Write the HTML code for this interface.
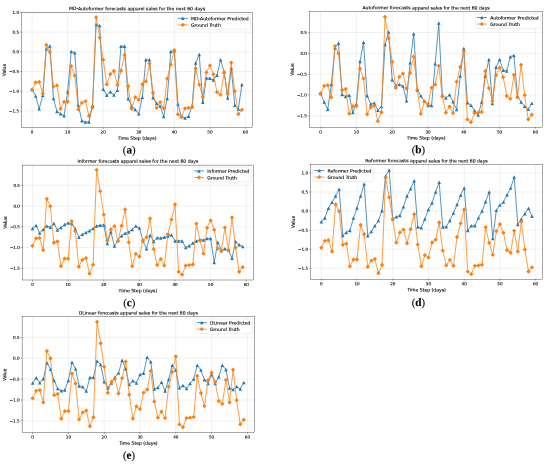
<!DOCTYPE html>
<html><head><meta charset="utf-8"><style>
html,body{margin:0;padding:0;background:#fff;}
svg{display:block;}
text{text-rendering:geometricPrecision;}
text{font-family:"DejaVu Sans","Liberation Sans",sans-serif;font-size:4.55px;fill:#000;stroke:#000;stroke-width:0.12px;}
text.cap{font-family:"Liberation Serif",serif;font-size:10.9px;font-weight:bold;fill:#000;}
text.tk{font-size:4.1px;}
tspan.par{font-weight:normal;}
tspan.let{font-size:11.4px;}
</style></head><body>
<svg width="550" height="466" viewBox="0 0 550 466">
<rect width="550" height="466" fill="#fff"/>
<g>
<line x1="32.1" y1="12.5" x2="32.1" y2="127.5" stroke="#dcdcdc" stroke-width="0.4"/>
<line x1="67.66" y1="12.5" x2="67.66" y2="127.5" stroke="#dcdcdc" stroke-width="0.4"/>
<line x1="103.22" y1="12.5" x2="103.22" y2="127.5" stroke="#dcdcdc" stroke-width="0.4"/>
<line x1="138.78" y1="12.5" x2="138.78" y2="127.5" stroke="#dcdcdc" stroke-width="0.4"/>
<line x1="174.34" y1="12.5" x2="174.34" y2="127.5" stroke="#dcdcdc" stroke-width="0.4"/>
<line x1="209.9" y1="12.5" x2="209.9" y2="127.5" stroke="#dcdcdc" stroke-width="0.4"/>
<line x1="245.46" y1="12.5" x2="245.46" y2="127.5" stroke="#dcdcdc" stroke-width="0.4"/>
<line x1="21.6" y1="12.4" x2="252.6" y2="12.4" stroke="#dcdcdc" stroke-width="0.4"/>
<line x1="21.6" y1="32.1" x2="252.6" y2="32.1" stroke="#dcdcdc" stroke-width="0.4"/>
<line x1="21.6" y1="51.8" x2="252.6" y2="51.8" stroke="#dcdcdc" stroke-width="0.4"/>
<line x1="21.6" y1="71.5" x2="252.6" y2="71.5" stroke="#dcdcdc" stroke-width="0.4"/>
<line x1="21.6" y1="91.2" x2="252.6" y2="91.2" stroke="#dcdcdc" stroke-width="0.4"/>
<line x1="21.6" y1="110.9" x2="252.6" y2="110.9" stroke="#dcdcdc" stroke-width="0.4"/>
<polyline points="32.1,89.58 35.66,96.08 39.21,108.79 42.77,95.29 46.32,48.84 49.88,46.09 53.44,98.44 56.99,111.43 60.55,113.79 64.1,115.76 67.66,91.75 71.22,51.6 74.77,52.78 78.33,105.33 81.88,120.87 85.44,122.05 89,122.05 92.55,105.33 96.11,24.44 99.66,25.62 103.22,89.19 106.78,95.29 110.33,91.75 113.89,94.9 117.44,90.17 121,46.21 124.56,46.21 128.11,98.83 131.67,105.92 135.22,109.46 138.78,113.79 142.34,97.26 145.89,59.87 149.45,59.87 153,97.65 156.56,103.16 160.12,105.92 163.67,116.54 167.23,98.44 170.78,51.6 174.34,50.81 177.9,103.95 181.45,116.54 185.01,118.12 188.56,116.15 192.12,105.92 195.68,63.01 199.23,54.59 202.79,102.37 206.34,77.97 209.9,78.36 213.46,79.94 217.01,75.22 220.57,59.87 224.12,72.07 227.68,98.04 231.24,68.13 234.79,105.33 238.35,109.07 241.9,84.47" fill="none" stroke="#1f77b4" stroke-width="0.78" stroke-linejoin="round"/>
<path d="M32.1 87.83L33.85 91.33L30.35 91.33Z" fill="#1f77b4"/>
<path d="M35.66 94.33L37.41 97.83L33.91 97.83Z" fill="#1f77b4"/>
<path d="M39.21 107.04L40.96 110.54L37.46 110.54Z" fill="#1f77b4"/>
<path d="M42.77 93.54L44.52 97.04L41.02 97.04Z" fill="#1f77b4"/>
<path d="M46.32 47.09L48.07 50.59L44.57 50.59Z" fill="#1f77b4"/>
<path d="M49.88 44.34L51.63 47.84L48.13 47.84Z" fill="#1f77b4"/>
<path d="M53.44 96.69L55.19 100.19L51.69 100.19Z" fill="#1f77b4"/>
<path d="M56.99 109.68L58.74 113.18L55.24 113.18Z" fill="#1f77b4"/>
<path d="M60.55 112.04L62.3 115.54L58.8 115.54Z" fill="#1f77b4"/>
<path d="M64.1 114.01L65.85 117.51L62.35 117.51Z" fill="#1f77b4"/>
<path d="M67.66 90L69.41 93.5L65.91 93.5Z" fill="#1f77b4"/>
<path d="M71.22 49.85L72.97 53.35L69.47 53.35Z" fill="#1f77b4"/>
<path d="M74.77 51.03L76.52 54.53L73.02 54.53Z" fill="#1f77b4"/>
<path d="M78.33 103.58L80.08 107.08L76.58 107.08Z" fill="#1f77b4"/>
<path d="M81.88 119.12L83.63 122.62L80.13 122.62Z" fill="#1f77b4"/>
<path d="M85.44 120.3L87.19 123.8L83.69 123.8Z" fill="#1f77b4"/>
<path d="M89 120.3L90.75 123.8L87.25 123.8Z" fill="#1f77b4"/>
<path d="M92.55 103.58L94.3 107.08L90.8 107.08Z" fill="#1f77b4"/>
<path d="M96.11 22.69L97.86 26.19L94.36 26.19Z" fill="#1f77b4"/>
<path d="M99.66 23.87L101.41 27.37L97.91 27.37Z" fill="#1f77b4"/>
<path d="M103.22 87.44L104.97 90.94L101.47 90.94Z" fill="#1f77b4"/>
<path d="M106.78 93.54L108.53 97.04L105.03 97.04Z" fill="#1f77b4"/>
<path d="M110.33 90L112.08 93.5L108.58 93.5Z" fill="#1f77b4"/>
<path d="M113.89 93.15L115.64 96.65L112.14 96.65Z" fill="#1f77b4"/>
<path d="M117.44 88.42L119.19 91.92L115.69 91.92Z" fill="#1f77b4"/>
<path d="M121 44.46L122.75 47.96L119.25 47.96Z" fill="#1f77b4"/>
<path d="M124.56 44.46L126.31 47.96L122.81 47.96Z" fill="#1f77b4"/>
<path d="M128.11 97.08L129.86 100.58L126.36 100.58Z" fill="#1f77b4"/>
<path d="M131.67 104.17L133.42 107.67L129.92 107.67Z" fill="#1f77b4"/>
<path d="M135.22 107.71L136.97 111.21L133.47 111.21Z" fill="#1f77b4"/>
<path d="M138.78 112.04L140.53 115.54L137.03 115.54Z" fill="#1f77b4"/>
<path d="M142.34 95.51L144.09 99.01L140.59 99.01Z" fill="#1f77b4"/>
<path d="M145.89 58.12L147.64 61.62L144.14 61.62Z" fill="#1f77b4"/>
<path d="M149.45 58.12L151.2 61.62L147.7 61.62Z" fill="#1f77b4"/>
<path d="M153 95.9L154.75 99.4L151.25 99.4Z" fill="#1f77b4"/>
<path d="M156.56 101.41L158.31 104.91L154.81 104.91Z" fill="#1f77b4"/>
<path d="M160.12 104.17L161.87 107.67L158.37 107.67Z" fill="#1f77b4"/>
<path d="M163.67 114.79L165.42 118.29L161.92 118.29Z" fill="#1f77b4"/>
<path d="M167.23 96.69L168.98 100.19L165.48 100.19Z" fill="#1f77b4"/>
<path d="M170.78 49.85L172.53 53.35L169.03 53.35Z" fill="#1f77b4"/>
<path d="M174.34 49.06L176.09 52.56L172.59 52.56Z" fill="#1f77b4"/>
<path d="M177.9 102.2L179.65 105.7L176.15 105.7Z" fill="#1f77b4"/>
<path d="M181.45 114.79L183.2 118.29L179.7 118.29Z" fill="#1f77b4"/>
<path d="M185.01 116.37L186.76 119.87L183.26 119.87Z" fill="#1f77b4"/>
<path d="M188.56 114.4L190.31 117.9L186.81 117.9Z" fill="#1f77b4"/>
<path d="M192.12 104.17L193.87 107.67L190.37 107.67Z" fill="#1f77b4"/>
<path d="M195.68 61.26L197.43 64.76L193.93 64.76Z" fill="#1f77b4"/>
<path d="M199.23 52.84L200.98 56.34L197.48 56.34Z" fill="#1f77b4"/>
<path d="M202.79 100.62L204.54 104.12L201.04 104.12Z" fill="#1f77b4"/>
<path d="M206.34 76.22L208.09 79.72L204.59 79.72Z" fill="#1f77b4"/>
<path d="M209.9 76.61L211.65 80.11L208.15 80.11Z" fill="#1f77b4"/>
<path d="M213.46 78.19L215.21 81.69L211.71 81.69Z" fill="#1f77b4"/>
<path d="M217.01 73.47L218.76 76.97L215.26 76.97Z" fill="#1f77b4"/>
<path d="M220.57 58.12L222.32 61.62L218.82 61.62Z" fill="#1f77b4"/>
<path d="M224.12 70.32L225.87 73.82L222.37 73.82Z" fill="#1f77b4"/>
<path d="M227.68 96.29L229.43 99.79L225.93 99.79Z" fill="#1f77b4"/>
<path d="M231.24 66.38L232.99 69.88L229.49 69.88Z" fill="#1f77b4"/>
<path d="M234.79 103.58L236.54 107.08L233.04 107.08Z" fill="#1f77b4"/>
<path d="M238.35 107.32L240.1 110.82L236.6 110.82Z" fill="#1f77b4"/>
<path d="M241.9 82.72L243.65 86.22L240.15 86.22Z" fill="#1f77b4"/>
<polyline points="32.1,89.58 35.66,82.5 39.21,81.91 42.77,93.52 46.32,44.91 49.88,51.99 53.44,86.63 56.99,85.45 60.55,108.87 64.1,101.78 67.66,101.78 71.22,66.16 74.77,75.61 78.33,109.46 81.88,102.96 85.44,101.19 89,115.99 92.55,107.49 96.11,17.32 99.66,37.59 103.22,59.87 106.78,84.47 110.33,74.04 113.89,70.89 117.44,85.06 121,70.49 124.56,54.98 128.11,86.24 131.67,108.87 135.22,97.26 138.78,99.82 142.34,84.27 145.89,81.32 149.45,63.6 153,92.73 156.56,107.88 160.12,102.1 163.67,108.28 167.23,78.6 170.78,64.59 174.34,50.1 177.9,114.3 181.45,116.94 185.01,108.28 188.56,107.88 192.12,107.29 195.68,68.52 199.23,84.66 202.79,96.98 206.34,72.46 209.9,65.38 213.46,74.31 217.01,92.14 220.57,94.82 224.12,72.19 227.68,93.52 231.24,62.62 234.79,91.35 238.35,114.18 241.9,109.85" fill="none" stroke="#ff7f0e" stroke-width="0.78" stroke-linejoin="round"/>
<path d="M32.1 87.43L34.25 89.58L32.1 91.73L29.95 89.58Z" fill="#ff7f0e"/>
<path d="M35.66 80.35L37.81 82.5L35.66 84.65L33.51 82.5Z" fill="#ff7f0e"/>
<path d="M39.21 79.76L41.36 81.91L39.21 84.06L37.06 81.91Z" fill="#ff7f0e"/>
<path d="M42.77 91.37L44.92 93.52L42.77 95.67L40.62 93.52Z" fill="#ff7f0e"/>
<path d="M46.32 42.76L48.47 44.91L46.32 47.06L44.17 44.91Z" fill="#ff7f0e"/>
<path d="M49.88 49.84L52.03 51.99L49.88 54.14L47.73 51.99Z" fill="#ff7f0e"/>
<path d="M53.44 84.48L55.59 86.63L53.44 88.78L51.29 86.63Z" fill="#ff7f0e"/>
<path d="M56.99 83.3L59.14 85.45L56.99 87.6L54.84 85.45Z" fill="#ff7f0e"/>
<path d="M60.55 106.72L62.7 108.87L60.55 111.02L58.4 108.87Z" fill="#ff7f0e"/>
<path d="M64.1 99.63L66.25 101.78L64.1 103.93L61.95 101.78Z" fill="#ff7f0e"/>
<path d="M67.66 99.63L69.81 101.78L67.66 103.93L65.51 101.78Z" fill="#ff7f0e"/>
<path d="M71.22 64.01L73.37 66.16L71.22 68.31L69.07 66.16Z" fill="#ff7f0e"/>
<path d="M74.77 73.46L76.92 75.61L74.77 77.76L72.62 75.61Z" fill="#ff7f0e"/>
<path d="M78.33 107.31L80.48 109.46L78.33 111.61L76.18 109.46Z" fill="#ff7f0e"/>
<path d="M81.88 100.81L84.03 102.96L81.88 105.11L79.73 102.96Z" fill="#ff7f0e"/>
<path d="M85.44 99.04L87.59 101.19L85.44 103.34L83.29 101.19Z" fill="#ff7f0e"/>
<path d="M89 113.84L91.15 115.99L89 118.14L86.85 115.99Z" fill="#ff7f0e"/>
<path d="M92.55 105.34L94.7 107.49L92.55 109.64L90.4 107.49Z" fill="#ff7f0e"/>
<path d="M96.11 15.17L98.26 17.32L96.11 19.47L93.96 17.32Z" fill="#ff7f0e"/>
<path d="M99.66 35.44L101.81 37.59L99.66 39.74L97.51 37.59Z" fill="#ff7f0e"/>
<path d="M103.22 57.72L105.37 59.87L103.22 62.02L101.07 59.87Z" fill="#ff7f0e"/>
<path d="M106.78 82.32L108.93 84.47L106.78 86.62L104.63 84.47Z" fill="#ff7f0e"/>
<path d="M110.33 71.89L112.48 74.04L110.33 76.19L108.18 74.04Z" fill="#ff7f0e"/>
<path d="M113.89 68.74L116.04 70.89L113.89 73.04L111.74 70.89Z" fill="#ff7f0e"/>
<path d="M117.44 82.91L119.59 85.06L117.44 87.21L115.29 85.06Z" fill="#ff7f0e"/>
<path d="M121 68.34L123.15 70.49L121 72.64L118.85 70.49Z" fill="#ff7f0e"/>
<path d="M124.56 52.83L126.71 54.98L124.56 57.13L122.41 54.98Z" fill="#ff7f0e"/>
<path d="M128.11 84.09L130.26 86.24L128.11 88.39L125.96 86.24Z" fill="#ff7f0e"/>
<path d="M131.67 106.72L133.82 108.87L131.67 111.02L129.52 108.87Z" fill="#ff7f0e"/>
<path d="M135.22 95.11L137.37 97.26L135.22 99.41L133.07 97.26Z" fill="#ff7f0e"/>
<path d="M138.78 97.67L140.93 99.82L138.78 101.97L136.63 99.82Z" fill="#ff7f0e"/>
<path d="M142.34 82.12L144.49 84.27L142.34 86.42L140.19 84.27Z" fill="#ff7f0e"/>
<path d="M145.89 79.17L148.04 81.32L145.89 83.47L143.74 81.32Z" fill="#ff7f0e"/>
<path d="M149.45 61.45L151.6 63.6L149.45 65.75L147.3 63.6Z" fill="#ff7f0e"/>
<path d="M153 90.58L155.15 92.73L153 94.88L150.85 92.73Z" fill="#ff7f0e"/>
<path d="M156.56 105.73L158.71 107.88L156.56 110.03L154.41 107.88Z" fill="#ff7f0e"/>
<path d="M160.12 99.95L162.27 102.1L160.12 104.25L157.97 102.1Z" fill="#ff7f0e"/>
<path d="M163.67 106.13L165.82 108.28L163.67 110.43L161.52 108.28Z" fill="#ff7f0e"/>
<path d="M167.23 76.45L169.38 78.6L167.23 80.75L165.08 78.6Z" fill="#ff7f0e"/>
<path d="M170.78 62.44L172.93 64.59L170.78 66.74L168.63 64.59Z" fill="#ff7f0e"/>
<path d="M174.34 47.95L176.49 50.1L174.34 52.25L172.19 50.1Z" fill="#ff7f0e"/>
<path d="M177.9 112.15L180.05 114.3L177.9 116.45L175.75 114.3Z" fill="#ff7f0e"/>
<path d="M181.45 114.79L183.6 116.94L181.45 119.09L179.3 116.94Z" fill="#ff7f0e"/>
<path d="M185.01 106.13L187.16 108.28L185.01 110.43L182.86 108.28Z" fill="#ff7f0e"/>
<path d="M188.56 105.73L190.71 107.88L188.56 110.03L186.41 107.88Z" fill="#ff7f0e"/>
<path d="M192.12 105.14L194.27 107.29L192.12 109.44L189.97 107.29Z" fill="#ff7f0e"/>
<path d="M195.68 66.37L197.83 68.52L195.68 70.67L193.53 68.52Z" fill="#ff7f0e"/>
<path d="M199.23 82.51L201.38 84.66L199.23 86.81L197.08 84.66Z" fill="#ff7f0e"/>
<path d="M202.79 94.83L204.94 96.98L202.79 99.13L200.64 96.98Z" fill="#ff7f0e"/>
<path d="M206.34 70.31L208.49 72.46L206.34 74.61L204.19 72.46Z" fill="#ff7f0e"/>
<path d="M209.9 63.23L212.05 65.38L209.9 67.53L207.75 65.38Z" fill="#ff7f0e"/>
<path d="M213.46 72.16L215.61 74.31L213.46 76.46L211.31 74.31Z" fill="#ff7f0e"/>
<path d="M217.01 89.99L219.16 92.14L217.01 94.29L214.86 92.14Z" fill="#ff7f0e"/>
<path d="M220.57 92.67L222.72 94.82L220.57 96.97L218.42 94.82Z" fill="#ff7f0e"/>
<path d="M224.12 70.04L226.27 72.19L224.12 74.34L221.97 72.19Z" fill="#ff7f0e"/>
<path d="M227.68 91.37L229.83 93.52L227.68 95.67L225.53 93.52Z" fill="#ff7f0e"/>
<path d="M231.24 60.47L233.39 62.62L231.24 64.77L229.09 62.62Z" fill="#ff7f0e"/>
<path d="M234.79 89.2L236.94 91.35L234.79 93.5L232.64 91.35Z" fill="#ff7f0e"/>
<path d="M238.35 112.03L240.5 114.18L238.35 116.33L236.2 114.18Z" fill="#ff7f0e"/>
<path d="M241.9 107.7L244.05 109.85L241.9 112L239.75 109.85Z" fill="#ff7f0e"/>
<rect x="21.6" y="12.5" width="231" height="115" fill="none" stroke="#000" stroke-width="0.34"/>
<line x1="32.1" y1="127.5" x2="32.1" y2="128.9" stroke="#000" stroke-width="0.34"/>
<text x="32.1" y="133.5" text-anchor="middle" class="tk" transform="rotate(0.06 32.1 133.5)">0</text>
<line x1="67.66" y1="127.5" x2="67.66" y2="128.9" stroke="#000" stroke-width="0.34"/>
<text x="67.66" y="133.5" text-anchor="middle" class="tk" transform="rotate(0.06 67.66 133.5)">10</text>
<line x1="103.22" y1="127.5" x2="103.22" y2="128.9" stroke="#000" stroke-width="0.34"/>
<text x="103.22" y="133.5" text-anchor="middle" class="tk" transform="rotate(0.06 103.22 133.5)">20</text>
<line x1="138.78" y1="127.5" x2="138.78" y2="128.9" stroke="#000" stroke-width="0.34"/>
<text x="138.78" y="133.5" text-anchor="middle" class="tk" transform="rotate(0.06 138.78 133.5)">30</text>
<line x1="174.34" y1="127.5" x2="174.34" y2="128.9" stroke="#000" stroke-width="0.34"/>
<text x="174.34" y="133.5" text-anchor="middle" class="tk" transform="rotate(0.06 174.34 133.5)">40</text>
<line x1="209.9" y1="127.5" x2="209.9" y2="128.9" stroke="#000" stroke-width="0.34"/>
<text x="209.9" y="133.5" text-anchor="middle" class="tk" transform="rotate(0.06 209.9 133.5)">50</text>
<line x1="245.46" y1="127.5" x2="245.46" y2="128.9" stroke="#000" stroke-width="0.34"/>
<text x="245.46" y="133.5" text-anchor="middle" class="tk" transform="rotate(0.06 245.46 133.5)">60</text>
<line x1="20.2" y1="12.4" x2="21.6" y2="12.4" stroke="#000" stroke-width="0.34"/>
<text x="19" y="13.95" text-anchor="end" class="tk" transform="rotate(0.06 19 13.95)">1.0</text>
<line x1="20.2" y1="32.1" x2="21.6" y2="32.1" stroke="#000" stroke-width="0.34"/>
<text x="19" y="33.65" text-anchor="end" class="tk" transform="rotate(0.06 19 33.65)">0.5</text>
<line x1="20.2" y1="51.8" x2="21.6" y2="51.8" stroke="#000" stroke-width="0.34"/>
<text x="19" y="53.35" text-anchor="end" class="tk" transform="rotate(0.06 19 53.35)">0.0</text>
<line x1="20.2" y1="71.5" x2="21.6" y2="71.5" stroke="#000" stroke-width="0.34"/>
<text x="19" y="73.05" text-anchor="end" class="tk" transform="rotate(0.06 19 73.05)">−0.5</text>
<line x1="20.2" y1="91.2" x2="21.6" y2="91.2" stroke="#000" stroke-width="0.34"/>
<text x="19" y="92.75" text-anchor="end" class="tk" transform="rotate(0.06 19 92.75)">−1.0</text>
<line x1="20.2" y1="110.9" x2="21.6" y2="110.9" stroke="#000" stroke-width="0.34"/>
<text x="19" y="112.45" text-anchor="end" class="tk" transform="rotate(0.06 19 112.45)">−1.5</text>
<text x="137.1" y="10.2" text-anchor="middle" transform="rotate(0.06 137.1 10.2)">MD-Autoformer forecasts apparel sales for the next 60 days</text>
<text x="137.1" y="139.7" text-anchor="middle" transform="rotate(0.06 137.1 139.7)">Time Step (days)</text>
<text x="5.8" y="70" text-anchor="middle" transform="rotate(-89.94 5.8 70)">Value</text>
<rect x="176.28" y="14.6" width="74.22" height="14.7" rx="0.9" fill="#fff" fill-opacity="0.8" stroke="#d6d6d6" stroke-width="0.4"/>
<line x1="177.88" y1="18.3" x2="187.78" y2="18.3" stroke="#1f77b4" stroke-width="0.78"/>
<path d="M182.83 16.55L184.58 20.05L181.08 20.05Z" fill="#1f77b4"/>
<text x="191.08" y="20.2" transform="rotate(0.06 191.08 20.2)">MD-Autoformer Predicted</text>
<line x1="177.88" y1="24.9" x2="187.78" y2="24.9" stroke="#ff7f0e" stroke-width="0.78"/>
<path d="M182.83 22.75L184.98 24.9L182.83 27.05L180.68 24.9Z" fill="#ff7f0e"/>
<text x="191.08" y="26.8" transform="rotate(0.06 191.08 26.8)">Ground Truth</text>
<text class="cap" transform="translate(129.2 153.5) rotate(0.06) scale(0.98 1)" text-anchor="middle"><tspan class="par">(</tspan><tspan class="let">a</tspan><tspan class="par">)</tspan></text>
<line x1="320.6" y1="11.7" x2="320.6" y2="127.4" stroke="#dcdcdc" stroke-width="0.4"/>
<line x1="356.4" y1="11.7" x2="356.4" y2="127.4" stroke="#dcdcdc" stroke-width="0.4"/>
<line x1="392.2" y1="11.7" x2="392.2" y2="127.4" stroke="#dcdcdc" stroke-width="0.4"/>
<line x1="428" y1="11.7" x2="428" y2="127.4" stroke="#dcdcdc" stroke-width="0.4"/>
<line x1="463.8" y1="11.7" x2="463.8" y2="127.4" stroke="#dcdcdc" stroke-width="0.4"/>
<line x1="499.6" y1="11.7" x2="499.6" y2="127.4" stroke="#dcdcdc" stroke-width="0.4"/>
<line x1="535.4" y1="11.7" x2="535.4" y2="127.4" stroke="#dcdcdc" stroke-width="0.4"/>
<line x1="309.5" y1="32.53" x2="542.7" y2="32.53" stroke="#dcdcdc" stroke-width="0.4"/>
<line x1="309.5" y1="53.36" x2="542.7" y2="53.36" stroke="#dcdcdc" stroke-width="0.4"/>
<line x1="309.5" y1="74.19" x2="542.7" y2="74.19" stroke="#dcdcdc" stroke-width="0.4"/>
<line x1="309.5" y1="95.01" x2="542.7" y2="95.01" stroke="#dcdcdc" stroke-width="0.4"/>
<line x1="309.5" y1="115.83" x2="542.7" y2="115.83" stroke="#dcdcdc" stroke-width="0.4"/>
<polyline points="320.6,93.42 324.18,102.1 327.76,109.35 331.34,84.5 334.92,48 338.5,43.14 342.08,94.6 345.66,96.57 349.24,95.31 352.82,112.4 356.4,103.9 359.98,61.58 363.56,42.18 367.14,95.73 370.72,104.02 374.3,103.06 377.88,110.18 381.46,106.62 385.04,44.48 388.62,32.08 392.2,79.81 395.78,85.38 399.36,84.5 402.94,86.01 406.52,100.8 410.1,62.84 413.68,33.8 417.26,89.95 420.84,95.73 424.42,101.22 428,105.58 431.58,105.58 435.16,63.8 438.74,23.12 442.32,95.31 445.9,97.91 449.48,94.81 453.06,101.72 456.64,109.43 460.22,76.04 463.8,48.59 467.38,102.64 470.96,105.28 474.54,110.52 478.12,115 481.7,102.1 485.28,76.04 488.86,59.61 492.44,103.48 496.02,67.32 499.6,59.61 503.18,70.17 506.76,71.09 510.34,56.68 513.92,55.38 517.5,95.94 521.08,101.93 524.66,106.29 528.24,109.35 531.82,103.19" fill="none" stroke="#1f77b4" stroke-width="0.78" stroke-linejoin="round"/>
<path d="M320.6 91.67L322.35 95.17L318.85 95.17Z" fill="#1f77b4"/>
<path d="M324.18 100.35L325.93 103.85L322.43 103.85Z" fill="#1f77b4"/>
<path d="M327.76 107.6L329.51 111.1L326.01 111.1Z" fill="#1f77b4"/>
<path d="M331.34 82.75L333.09 86.25L329.59 86.25Z" fill="#1f77b4"/>
<path d="M334.92 46.25L336.67 49.75L333.17 49.75Z" fill="#1f77b4"/>
<path d="M338.5 41.39L340.25 44.89L336.75 44.89Z" fill="#1f77b4"/>
<path d="M342.08 92.85L343.83 96.35L340.33 96.35Z" fill="#1f77b4"/>
<path d="M345.66 94.82L347.41 98.32L343.91 98.32Z" fill="#1f77b4"/>
<path d="M349.24 93.56L350.99 97.06L347.49 97.06Z" fill="#1f77b4"/>
<path d="M352.82 110.65L354.57 114.15L351.07 114.15Z" fill="#1f77b4"/>
<path d="M356.4 102.15L358.15 105.65L354.65 105.65Z" fill="#1f77b4"/>
<path d="M359.98 59.83L361.73 63.33L358.23 63.33Z" fill="#1f77b4"/>
<path d="M363.56 40.43L365.31 43.93L361.81 43.93Z" fill="#1f77b4"/>
<path d="M367.14 93.98L368.89 97.48L365.39 97.48Z" fill="#1f77b4"/>
<path d="M370.72 102.27L372.47 105.77L368.97 105.77Z" fill="#1f77b4"/>
<path d="M374.3 101.31L376.05 104.81L372.55 104.81Z" fill="#1f77b4"/>
<path d="M377.88 108.43L379.63 111.93L376.13 111.93Z" fill="#1f77b4"/>
<path d="M381.46 104.87L383.21 108.37L379.71 108.37Z" fill="#1f77b4"/>
<path d="M385.04 42.73L386.79 46.23L383.29 46.23Z" fill="#1f77b4"/>
<path d="M388.62 30.33L390.37 33.83L386.87 33.83Z" fill="#1f77b4"/>
<path d="M392.2 78.06L393.95 81.56L390.45 81.56Z" fill="#1f77b4"/>
<path d="M395.78 83.63L397.53 87.13L394.03 87.13Z" fill="#1f77b4"/>
<path d="M399.36 82.75L401.11 86.25L397.61 86.25Z" fill="#1f77b4"/>
<path d="M402.94 84.26L404.69 87.76L401.19 87.76Z" fill="#1f77b4"/>
<path d="M406.52 99.05L408.27 102.55L404.77 102.55Z" fill="#1f77b4"/>
<path d="M410.1 61.09L411.85 64.59L408.35 64.59Z" fill="#1f77b4"/>
<path d="M413.68 32.05L415.43 35.55L411.93 35.55Z" fill="#1f77b4"/>
<path d="M417.26 88.2L419.01 91.7L415.51 91.7Z" fill="#1f77b4"/>
<path d="M420.84 93.98L422.59 97.48L419.09 97.48Z" fill="#1f77b4"/>
<path d="M424.42 99.47L426.17 102.97L422.67 102.97Z" fill="#1f77b4"/>
<path d="M428 103.83L429.75 107.33L426.25 107.33Z" fill="#1f77b4"/>
<path d="M431.58 103.83L433.33 107.33L429.83 107.33Z" fill="#1f77b4"/>
<path d="M435.16 62.05L436.91 65.55L433.41 65.55Z" fill="#1f77b4"/>
<path d="M438.74 21.37L440.49 24.87L436.99 24.87Z" fill="#1f77b4"/>
<path d="M442.32 93.56L444.07 97.06L440.57 97.06Z" fill="#1f77b4"/>
<path d="M445.9 96.16L447.65 99.66L444.15 99.66Z" fill="#1f77b4"/>
<path d="M449.48 93.06L451.23 96.56L447.73 96.56Z" fill="#1f77b4"/>
<path d="M453.06 99.97L454.81 103.47L451.31 103.47Z" fill="#1f77b4"/>
<path d="M456.64 107.68L458.39 111.18L454.89 111.18Z" fill="#1f77b4"/>
<path d="M460.22 74.29L461.97 77.79L458.47 77.79Z" fill="#1f77b4"/>
<path d="M463.8 46.84L465.55 50.34L462.05 50.34Z" fill="#1f77b4"/>
<path d="M467.38 100.89L469.13 104.39L465.63 104.39Z" fill="#1f77b4"/>
<path d="M470.96 103.53L472.71 107.03L469.21 107.03Z" fill="#1f77b4"/>
<path d="M474.54 108.77L476.29 112.27L472.79 112.27Z" fill="#1f77b4"/>
<path d="M478.12 113.25L479.87 116.75L476.37 116.75Z" fill="#1f77b4"/>
<path d="M481.7 100.35L483.45 103.85L479.95 103.85Z" fill="#1f77b4"/>
<path d="M485.28 74.29L487.03 77.79L483.53 77.79Z" fill="#1f77b4"/>
<path d="M488.86 57.86L490.61 61.36L487.11 61.36Z" fill="#1f77b4"/>
<path d="M492.44 101.73L494.19 105.23L490.69 105.23Z" fill="#1f77b4"/>
<path d="M496.02 65.57L497.77 69.07L494.27 69.07Z" fill="#1f77b4"/>
<path d="M499.6 57.86L501.35 61.36L497.85 61.36Z" fill="#1f77b4"/>
<path d="M503.18 68.42L504.93 71.92L501.43 71.92Z" fill="#1f77b4"/>
<path d="M506.76 69.34L508.51 72.84L505.01 72.84Z" fill="#1f77b4"/>
<path d="M510.34 54.93L512.09 58.43L508.59 58.43Z" fill="#1f77b4"/>
<path d="M513.92 53.63L515.67 57.13L512.17 57.13Z" fill="#1f77b4"/>
<path d="M517.5 94.19L519.25 97.69L515.75 97.69Z" fill="#1f77b4"/>
<path d="M521.08 100.18L522.83 103.68L519.33 103.68Z" fill="#1f77b4"/>
<path d="M524.66 104.54L526.41 108.04L522.91 108.04Z" fill="#1f77b4"/>
<path d="M528.24 107.6L529.99 111.1L526.49 111.1Z" fill="#1f77b4"/>
<path d="M531.82 101.44L533.57 104.94L530.07 104.94Z" fill="#1f77b4"/>
<polyline points="320.6,93.3 324.18,85.81 327.76,85.19 331.34,97.46 334.92,46.08 338.5,53.56 342.08,90.18 345.66,88.93 349.24,113.69 352.82,106.2 356.4,106.2 359.98,68.54 363.56,78.53 367.14,114.31 370.72,107.45 374.3,105.57 377.88,121.22 381.46,112.23 385.04,16.91 388.62,38.34 392.2,61.89 395.78,87.89 399.36,76.86 402.94,73.54 406.52,88.52 410.1,73.12 413.68,56.73 417.26,89.76 420.84,113.69 424.42,101.41 428,104.12 431.58,87.68 435.16,84.56 438.74,65.84 442.32,96.63 445.9,112.65 449.48,106.53 453.06,113.06 456.64,81.69 460.22,66.88 463.8,51.57 467.38,119.43 470.96,122.22 474.54,113.06 478.12,112.65 481.7,112.02 485.28,71.04 488.86,88.1 492.44,101.12 496.02,75.2 499.6,67.71 503.18,77.16 506.76,96 510.34,98.83 513.92,74.91 517.5,97.46 521.08,64.8 524.66,95.17 528.24,119.3 531.82,114.73" fill="none" stroke="#ff7f0e" stroke-width="0.78" stroke-linejoin="round"/>
<path d="M320.6 91.15L322.75 93.3L320.6 95.45L318.45 93.3Z" fill="#ff7f0e"/>
<path d="M324.18 83.66L326.33 85.81L324.18 87.96L322.03 85.81Z" fill="#ff7f0e"/>
<path d="M327.76 83.04L329.91 85.19L327.76 87.34L325.61 85.19Z" fill="#ff7f0e"/>
<path d="M331.34 95.31L333.49 97.46L331.34 99.61L329.19 97.46Z" fill="#ff7f0e"/>
<path d="M334.92 43.93L337.07 46.08L334.92 48.23L332.77 46.08Z" fill="#ff7f0e"/>
<path d="M338.5 51.41L340.65 53.56L338.5 55.71L336.35 53.56Z" fill="#ff7f0e"/>
<path d="M342.08 88.03L344.23 90.18L342.08 92.33L339.93 90.18Z" fill="#ff7f0e"/>
<path d="M345.66 86.78L347.81 88.93L345.66 91.08L343.51 88.93Z" fill="#ff7f0e"/>
<path d="M349.24 111.54L351.39 113.69L349.24 115.84L347.09 113.69Z" fill="#ff7f0e"/>
<path d="M352.82 104.05L354.97 106.2L352.82 108.35L350.67 106.2Z" fill="#ff7f0e"/>
<path d="M356.4 104.05L358.55 106.2L356.4 108.35L354.25 106.2Z" fill="#ff7f0e"/>
<path d="M359.98 66.39L362.13 68.54L359.98 70.69L357.83 68.54Z" fill="#ff7f0e"/>
<path d="M363.56 76.38L365.71 78.53L363.56 80.68L361.41 78.53Z" fill="#ff7f0e"/>
<path d="M367.14 112.16L369.29 114.31L367.14 116.46L364.99 114.31Z" fill="#ff7f0e"/>
<path d="M370.72 105.3L372.87 107.45L370.72 109.6L368.57 107.45Z" fill="#ff7f0e"/>
<path d="M374.3 103.42L376.45 105.57L374.3 107.72L372.15 105.57Z" fill="#ff7f0e"/>
<path d="M377.88 119.07L380.03 121.22L377.88 123.37L375.73 121.22Z" fill="#ff7f0e"/>
<path d="M381.46 110.08L383.61 112.23L381.46 114.38L379.31 112.23Z" fill="#ff7f0e"/>
<path d="M385.04 14.76L387.19 16.91L385.04 19.06L382.89 16.91Z" fill="#ff7f0e"/>
<path d="M388.62 36.19L390.77 38.34L388.62 40.49L386.47 38.34Z" fill="#ff7f0e"/>
<path d="M392.2 59.74L394.35 61.89L392.2 64.04L390.05 61.89Z" fill="#ff7f0e"/>
<path d="M395.78 85.74L397.93 87.89L395.78 90.04L393.63 87.89Z" fill="#ff7f0e"/>
<path d="M399.36 74.71L401.51 76.86L399.36 79.01L397.21 76.86Z" fill="#ff7f0e"/>
<path d="M402.94 71.39L405.09 73.54L402.94 75.69L400.79 73.54Z" fill="#ff7f0e"/>
<path d="M406.52 86.37L408.67 88.52L406.52 90.67L404.37 88.52Z" fill="#ff7f0e"/>
<path d="M410.1 70.97L412.25 73.12L410.1 75.27L407.95 73.12Z" fill="#ff7f0e"/>
<path d="M413.68 54.58L415.83 56.73L413.68 58.88L411.53 56.73Z" fill="#ff7f0e"/>
<path d="M417.26 87.61L419.41 89.76L417.26 91.91L415.11 89.76Z" fill="#ff7f0e"/>
<path d="M420.84 111.54L422.99 113.69L420.84 115.84L418.69 113.69Z" fill="#ff7f0e"/>
<path d="M424.42 99.26L426.57 101.41L424.42 103.56L422.27 101.41Z" fill="#ff7f0e"/>
<path d="M428 101.97L430.15 104.12L428 106.27L425.85 104.12Z" fill="#ff7f0e"/>
<path d="M431.58 85.53L433.73 87.68L431.58 89.83L429.43 87.68Z" fill="#ff7f0e"/>
<path d="M435.16 82.41L437.31 84.56L435.16 86.71L433.01 84.56Z" fill="#ff7f0e"/>
<path d="M438.74 63.69L440.89 65.84L438.74 67.99L436.59 65.84Z" fill="#ff7f0e"/>
<path d="M442.32 94.48L444.47 96.63L442.32 98.78L440.17 96.63Z" fill="#ff7f0e"/>
<path d="M445.9 110.5L448.05 112.65L445.9 114.8L443.75 112.65Z" fill="#ff7f0e"/>
<path d="M449.48 104.38L451.63 106.53L449.48 108.68L447.33 106.53Z" fill="#ff7f0e"/>
<path d="M453.06 110.91L455.21 113.06L453.06 115.21L450.91 113.06Z" fill="#ff7f0e"/>
<path d="M456.64 79.54L458.79 81.69L456.64 83.84L454.49 81.69Z" fill="#ff7f0e"/>
<path d="M460.22 64.73L462.37 66.88L460.22 69.03L458.07 66.88Z" fill="#ff7f0e"/>
<path d="M463.8 49.42L465.95 51.57L463.8 53.72L461.65 51.57Z" fill="#ff7f0e"/>
<path d="M467.38 117.28L469.53 119.43L467.38 121.58L465.23 119.43Z" fill="#ff7f0e"/>
<path d="M470.96 120.07L473.11 122.22L470.96 124.37L468.81 122.22Z" fill="#ff7f0e"/>
<path d="M474.54 110.91L476.69 113.06L474.54 115.21L472.39 113.06Z" fill="#ff7f0e"/>
<path d="M478.12 110.5L480.27 112.65L478.12 114.8L475.97 112.65Z" fill="#ff7f0e"/>
<path d="M481.7 109.87L483.85 112.02L481.7 114.17L479.55 112.02Z" fill="#ff7f0e"/>
<path d="M485.28 68.89L487.43 71.04L485.28 73.19L483.13 71.04Z" fill="#ff7f0e"/>
<path d="M488.86 85.95L491.01 88.1L488.86 90.25L486.71 88.1Z" fill="#ff7f0e"/>
<path d="M492.44 98.97L494.59 101.12L492.44 103.27L490.29 101.12Z" fill="#ff7f0e"/>
<path d="M496.02 73.05L498.17 75.2L496.02 77.35L493.87 75.2Z" fill="#ff7f0e"/>
<path d="M499.6 65.56L501.75 67.71L499.6 69.86L497.45 67.71Z" fill="#ff7f0e"/>
<path d="M503.18 75.01L505.33 77.16L503.18 79.31L501.03 77.16Z" fill="#ff7f0e"/>
<path d="M506.76 93.85L508.91 96L506.76 98.15L504.61 96Z" fill="#ff7f0e"/>
<path d="M510.34 96.68L512.49 98.83L510.34 100.98L508.19 98.83Z" fill="#ff7f0e"/>
<path d="M513.92 72.76L516.07 74.91L513.92 77.06L511.77 74.91Z" fill="#ff7f0e"/>
<path d="M517.5 95.31L519.65 97.46L517.5 99.61L515.35 97.46Z" fill="#ff7f0e"/>
<path d="M521.08 62.65L523.23 64.8L521.08 66.95L518.93 64.8Z" fill="#ff7f0e"/>
<path d="M524.66 93.02L526.81 95.17L524.66 97.32L522.51 95.17Z" fill="#ff7f0e"/>
<path d="M528.24 117.15L530.39 119.3L528.24 121.45L526.09 119.3Z" fill="#ff7f0e"/>
<path d="M531.82 112.58L533.97 114.73L531.82 116.88L529.67 114.73Z" fill="#ff7f0e"/>
<rect x="309.5" y="11.7" width="233.2" height="115.7" fill="none" stroke="#000" stroke-width="0.34"/>
<line x1="320.6" y1="127.4" x2="320.6" y2="128.8" stroke="#000" stroke-width="0.34"/>
<text x="320.6" y="133.4" text-anchor="middle" class="tk" transform="rotate(0.06 320.6 133.4)">0</text>
<line x1="356.4" y1="127.4" x2="356.4" y2="128.8" stroke="#000" stroke-width="0.34"/>
<text x="356.4" y="133.4" text-anchor="middle" class="tk" transform="rotate(0.06 356.4 133.4)">10</text>
<line x1="392.2" y1="127.4" x2="392.2" y2="128.8" stroke="#000" stroke-width="0.34"/>
<text x="392.2" y="133.4" text-anchor="middle" class="tk" transform="rotate(0.06 392.2 133.4)">20</text>
<line x1="428" y1="127.4" x2="428" y2="128.8" stroke="#000" stroke-width="0.34"/>
<text x="428" y="133.4" text-anchor="middle" class="tk" transform="rotate(0.06 428 133.4)">30</text>
<line x1="463.8" y1="127.4" x2="463.8" y2="128.8" stroke="#000" stroke-width="0.34"/>
<text x="463.8" y="133.4" text-anchor="middle" class="tk" transform="rotate(0.06 463.8 133.4)">40</text>
<line x1="499.6" y1="127.4" x2="499.6" y2="128.8" stroke="#000" stroke-width="0.34"/>
<text x="499.6" y="133.4" text-anchor="middle" class="tk" transform="rotate(0.06 499.6 133.4)">50</text>
<line x1="535.4" y1="127.4" x2="535.4" y2="128.8" stroke="#000" stroke-width="0.34"/>
<text x="535.4" y="133.4" text-anchor="middle" class="tk" transform="rotate(0.06 535.4 133.4)">60</text>
<line x1="308.1" y1="32.53" x2="309.5" y2="32.53" stroke="#000" stroke-width="0.34"/>
<text x="306.9" y="34.08" text-anchor="end" class="tk" transform="rotate(0.06 306.9 34.08)">0.5</text>
<line x1="308.1" y1="53.36" x2="309.5" y2="53.36" stroke="#000" stroke-width="0.34"/>
<text x="306.9" y="54.91" text-anchor="end" class="tk" transform="rotate(0.06 306.9 54.91)">0.0</text>
<line x1="308.1" y1="74.19" x2="309.5" y2="74.19" stroke="#000" stroke-width="0.34"/>
<text x="306.9" y="75.73" text-anchor="end" class="tk" transform="rotate(0.06 306.9 75.73)">−0.5</text>
<line x1="308.1" y1="95.01" x2="309.5" y2="95.01" stroke="#000" stroke-width="0.34"/>
<text x="306.9" y="96.56" text-anchor="end" class="tk" transform="rotate(0.06 306.9 96.56)">−1.0</text>
<line x1="308.1" y1="115.83" x2="309.5" y2="115.83" stroke="#000" stroke-width="0.34"/>
<text x="306.9" y="117.38" text-anchor="end" class="tk" transform="rotate(0.06 306.9 117.38)">−1.5</text>
<text x="426.1" y="9.4" text-anchor="middle" transform="rotate(0.06 426.1 9.4)">Autoformer forecasts apparel sales for the next 60 days</text>
<text x="426.1" y="139.6" text-anchor="middle" transform="rotate(0.06 426.1 139.6)">Time Step (days)</text>
<text x="293.7" y="69.55" text-anchor="middle" transform="rotate(-89.94 293.7 69.55)">Value</text>
<rect x="475.35" y="13.8" width="65.25" height="14.7" rx="0.9" fill="#fff" fill-opacity="0.8" stroke="#d6d6d6" stroke-width="0.4"/>
<line x1="476.95" y1="17.5" x2="486.85" y2="17.5" stroke="#1f77b4" stroke-width="0.78"/>
<path d="M481.9 15.75L483.65 19.25L480.15 19.25Z" fill="#1f77b4"/>
<text x="490.15" y="19.4" transform="rotate(0.06 490.15 19.4)">Autoformer Predicted</text>
<line x1="476.95" y1="24.1" x2="486.85" y2="24.1" stroke="#ff7f0e" stroke-width="0.78"/>
<path d="M481.9 21.95L484.05 24.1L481.9 26.25L479.75 24.1Z" fill="#ff7f0e"/>
<text x="490.15" y="26" transform="rotate(0.06 490.15 26)">Ground Truth</text>
<text class="cap" transform="translate(418.35 153.25) rotate(0.06) scale(0.98 1)" text-anchor="middle"><tspan class="par">(</tspan><tspan class="let">b</tspan><tspan class="par">)</tspan></text>
<line x1="32.5" y1="165.1" x2="32.5" y2="280" stroke="#dcdcdc" stroke-width="0.4"/>
<line x1="68.13" y1="165.1" x2="68.13" y2="280" stroke="#dcdcdc" stroke-width="0.4"/>
<line x1="103.76" y1="165.1" x2="103.76" y2="280" stroke="#dcdcdc" stroke-width="0.4"/>
<line x1="139.39" y1="165.1" x2="139.39" y2="280" stroke="#dcdcdc" stroke-width="0.4"/>
<line x1="175.02" y1="165.1" x2="175.02" y2="280" stroke="#dcdcdc" stroke-width="0.4"/>
<line x1="210.65" y1="165.1" x2="210.65" y2="280" stroke="#dcdcdc" stroke-width="0.4"/>
<line x1="246.28" y1="165.1" x2="246.28" y2="280" stroke="#dcdcdc" stroke-width="0.4"/>
<line x1="22.5" y1="185.37" x2="253.4" y2="185.37" stroke="#dcdcdc" stroke-width="0.4"/>
<line x1="22.5" y1="206.1" x2="253.4" y2="206.1" stroke="#dcdcdc" stroke-width="0.4"/>
<line x1="22.5" y1="226.83" x2="253.4" y2="226.83" stroke="#dcdcdc" stroke-width="0.4"/>
<line x1="22.5" y1="247.56" x2="253.4" y2="247.56" stroke="#dcdcdc" stroke-width="0.4"/>
<line x1="22.5" y1="268.29" x2="253.4" y2="268.29" stroke="#dcdcdc" stroke-width="0.4"/>
<polyline points="32.5,228.51 36.06,225.49 39.63,232.9 43.19,229.38 46.75,225.91 50.31,227.19 53.88,223.38 57.44,230 61,227.48 64.57,224.58 68.13,222.97 71.69,223.59 75.26,228.8 78.82,237.13 82.38,234.31 85.94,232.61 89.51,230.71 93.07,228.51 96.63,225.91 100.2,225.2 103.76,224.91 107.32,243.58 110.89,231.87 114.45,246.11 118.01,240.15 121.58,235.68 125.14,233.32 128.7,232.07 132.26,229.38 135.83,226.07 139.39,227.98 142.95,240.69 146.52,248.72 150.08,235.35 153.64,241.47 157.21,237.66 160.77,238 164.33,237.33 167.89,236.01 171.46,234.97 175.02,240.89 178.58,240.89 182.15,240.89 185.71,247.6 189.27,245.7 192.84,243.09 196.4,240.89 199.96,239.61 203.52,239.98 207.09,238.62 210.65,238.62 214.21,262.5 217.78,242.22 221.34,250.08 224.9,248.84 228.47,250.08 232.03,258.2 235.59,241.6 239.15,244.78 242.72,246.4" fill="none" stroke="#1f77b4" stroke-width="0.78" stroke-linejoin="round"/>
<path d="M32.5 226.76L34.25 230.26L30.75 230.26Z" fill="#1f77b4"/>
<path d="M36.06 223.74L37.81 227.24L34.31 227.24Z" fill="#1f77b4"/>
<path d="M39.63 231.15L41.38 234.65L37.88 234.65Z" fill="#1f77b4"/>
<path d="M43.19 227.63L44.94 231.13L41.44 231.13Z" fill="#1f77b4"/>
<path d="M46.75 224.16L48.5 227.66L45 227.66Z" fill="#1f77b4"/>
<path d="M50.31 225.44L52.06 228.94L48.56 228.94Z" fill="#1f77b4"/>
<path d="M53.88 221.63L55.63 225.13L52.13 225.13Z" fill="#1f77b4"/>
<path d="M57.44 228.25L59.19 231.75L55.69 231.75Z" fill="#1f77b4"/>
<path d="M61 225.73L62.75 229.23L59.25 229.23Z" fill="#1f77b4"/>
<path d="M64.57 222.83L66.32 226.33L62.82 226.33Z" fill="#1f77b4"/>
<path d="M68.13 221.22L69.88 224.72L66.38 224.72Z" fill="#1f77b4"/>
<path d="M71.69 221.84L73.44 225.34L69.94 225.34Z" fill="#1f77b4"/>
<path d="M75.26 227.05L77.01 230.55L73.51 230.55Z" fill="#1f77b4"/>
<path d="M78.82 235.38L80.57 238.88L77.07 238.88Z" fill="#1f77b4"/>
<path d="M82.38 232.56L84.13 236.06L80.63 236.06Z" fill="#1f77b4"/>
<path d="M85.94 230.86L87.69 234.36L84.19 234.36Z" fill="#1f77b4"/>
<path d="M89.51 228.96L91.26 232.46L87.76 232.46Z" fill="#1f77b4"/>
<path d="M93.07 226.76L94.82 230.26L91.32 230.26Z" fill="#1f77b4"/>
<path d="M96.63 224.16L98.38 227.66L94.88 227.66Z" fill="#1f77b4"/>
<path d="M100.2 223.45L101.95 226.95L98.45 226.95Z" fill="#1f77b4"/>
<path d="M103.76 223.16L105.51 226.66L102.01 226.66Z" fill="#1f77b4"/>
<path d="M107.32 241.83L109.07 245.33L105.57 245.33Z" fill="#1f77b4"/>
<path d="M110.89 230.12L112.64 233.62L109.14 233.62Z" fill="#1f77b4"/>
<path d="M114.45 244.36L116.2 247.86L112.7 247.86Z" fill="#1f77b4"/>
<path d="M118.01 238.4L119.76 241.9L116.26 241.9Z" fill="#1f77b4"/>
<path d="M121.58 233.93L123.33 237.43L119.83 237.43Z" fill="#1f77b4"/>
<path d="M125.14 231.57L126.89 235.07L123.39 235.07Z" fill="#1f77b4"/>
<path d="M128.7 230.32L130.45 233.82L126.95 233.82Z" fill="#1f77b4"/>
<path d="M132.26 227.63L134.01 231.13L130.51 231.13Z" fill="#1f77b4"/>
<path d="M135.83 224.32L137.58 227.82L134.08 227.82Z" fill="#1f77b4"/>
<path d="M139.39 226.23L141.14 229.73L137.64 229.73Z" fill="#1f77b4"/>
<path d="M142.95 238.94L144.7 242.44L141.2 242.44Z" fill="#1f77b4"/>
<path d="M146.52 246.97L148.27 250.47L144.77 250.47Z" fill="#1f77b4"/>
<path d="M150.08 233.6L151.83 237.1L148.33 237.1Z" fill="#1f77b4"/>
<path d="M153.64 239.72L155.39 243.22L151.89 243.22Z" fill="#1f77b4"/>
<path d="M157.21 235.91L158.96 239.41L155.46 239.41Z" fill="#1f77b4"/>
<path d="M160.77 236.25L162.52 239.75L159.02 239.75Z" fill="#1f77b4"/>
<path d="M164.33 235.58L166.08 239.08L162.58 239.08Z" fill="#1f77b4"/>
<path d="M167.89 234.26L169.64 237.76L166.14 237.76Z" fill="#1f77b4"/>
<path d="M171.46 233.22L173.21 236.72L169.71 236.72Z" fill="#1f77b4"/>
<path d="M175.02 239.14L176.77 242.64L173.27 242.64Z" fill="#1f77b4"/>
<path d="M178.58 239.14L180.33 242.64L176.83 242.64Z" fill="#1f77b4"/>
<path d="M182.15 239.14L183.9 242.64L180.4 242.64Z" fill="#1f77b4"/>
<path d="M185.71 245.85L187.46 249.35L183.96 249.35Z" fill="#1f77b4"/>
<path d="M189.27 243.95L191.02 247.45L187.52 247.45Z" fill="#1f77b4"/>
<path d="M192.84 241.34L194.59 244.84L191.09 244.84Z" fill="#1f77b4"/>
<path d="M196.4 239.14L198.15 242.64L194.65 242.64Z" fill="#1f77b4"/>
<path d="M199.96 237.86L201.71 241.36L198.21 241.36Z" fill="#1f77b4"/>
<path d="M203.52 238.23L205.27 241.73L201.77 241.73Z" fill="#1f77b4"/>
<path d="M207.09 236.87L208.84 240.37L205.34 240.37Z" fill="#1f77b4"/>
<path d="M210.65 236.87L212.4 240.37L208.9 240.37Z" fill="#1f77b4"/>
<path d="M214.21 260.75L215.96 264.25L212.46 264.25Z" fill="#1f77b4"/>
<path d="M217.78 240.47L219.53 243.97L216.03 243.97Z" fill="#1f77b4"/>
<path d="M221.34 248.33L223.09 251.83L219.59 251.83Z" fill="#1f77b4"/>
<path d="M224.9 247.09L226.65 250.59L223.15 250.59Z" fill="#1f77b4"/>
<path d="M228.47 248.33L230.22 251.83L226.72 251.83Z" fill="#1f77b4"/>
<path d="M232.03 256.45L233.78 259.95L230.28 259.95Z" fill="#1f77b4"/>
<path d="M235.59 239.85L237.34 243.35L233.84 243.35Z" fill="#1f77b4"/>
<path d="M239.15 243.03L240.9 246.53L237.4 246.53Z" fill="#1f77b4"/>
<path d="M242.72 244.65L244.47 248.15L240.97 248.15Z" fill="#1f77b4"/>
<polyline points="32.5,245.86 36.06,238.4 39.63,237.78 43.19,250 46.75,198.85 50.31,206.3 53.88,242.75 57.44,241.51 61,266.15 64.57,258.7 68.13,258.7 71.69,221.21 75.26,231.15 78.82,266.77 82.38,259.94 85.94,258.08 89.51,273.65 93.07,264.7 96.63,169.81 100.2,191.14 103.76,214.59 107.32,240.47 110.89,229.5 114.45,226.18 118.01,241.09 121.58,225.77 125.14,209.45 128.7,242.34 132.26,266.15 135.83,253.93 139.39,256.63 142.95,240.27 146.52,237.16 150.08,218.52 153.64,249.17 157.21,265.12 160.77,259.03 164.33,265.53 167.89,234.3 171.46,219.56 175.02,204.32 178.58,271.87 182.15,274.64 185.71,265.53 189.27,265.12 192.84,264.5 196.4,223.7 199.96,240.68 203.52,253.64 207.09,227.84 210.65,220.39 214.21,229.79 217.78,248.55 221.34,251.37 224.9,227.55 228.47,250 232.03,217.49 235.59,247.72 239.15,271.74 242.72,267.19" fill="none" stroke="#ff7f0e" stroke-width="0.78" stroke-linejoin="round"/>
<path d="M32.5 243.71L34.65 245.86L32.5 248.01L30.35 245.86Z" fill="#ff7f0e"/>
<path d="M36.06 236.25L38.21 238.4L36.06 240.55L33.91 238.4Z" fill="#ff7f0e"/>
<path d="M39.63 235.63L41.78 237.78L39.63 239.93L37.48 237.78Z" fill="#ff7f0e"/>
<path d="M43.19 247.85L45.34 250L43.19 252.15L41.04 250Z" fill="#ff7f0e"/>
<path d="M46.75 196.7L48.9 198.85L46.75 201L44.6 198.85Z" fill="#ff7f0e"/>
<path d="M50.31 204.15L52.46 206.3L50.31 208.45L48.16 206.3Z" fill="#ff7f0e"/>
<path d="M53.88 240.6L56.03 242.75L53.88 244.9L51.73 242.75Z" fill="#ff7f0e"/>
<path d="M57.44 239.36L59.59 241.51L57.44 243.66L55.29 241.51Z" fill="#ff7f0e"/>
<path d="M61 264L63.15 266.15L61 268.3L58.85 266.15Z" fill="#ff7f0e"/>
<path d="M64.57 256.55L66.72 258.7L64.57 260.85L62.42 258.7Z" fill="#ff7f0e"/>
<path d="M68.13 256.55L70.28 258.7L68.13 260.85L65.98 258.7Z" fill="#ff7f0e"/>
<path d="M71.69 219.06L73.84 221.21L71.69 223.36L69.54 221.21Z" fill="#ff7f0e"/>
<path d="M75.26 229L77.41 231.15L75.26 233.3L73.11 231.15Z" fill="#ff7f0e"/>
<path d="M78.82 264.62L80.97 266.77L78.82 268.92L76.67 266.77Z" fill="#ff7f0e"/>
<path d="M82.38 257.79L84.53 259.94L82.38 262.09L80.23 259.94Z" fill="#ff7f0e"/>
<path d="M85.94 255.93L88.09 258.08L85.94 260.23L83.79 258.08Z" fill="#ff7f0e"/>
<path d="M89.51 271.5L91.66 273.65L89.51 275.8L87.36 273.65Z" fill="#ff7f0e"/>
<path d="M93.07 262.55L95.22 264.7L93.07 266.85L90.92 264.7Z" fill="#ff7f0e"/>
<path d="M96.63 167.66L98.78 169.81L96.63 171.96L94.48 169.81Z" fill="#ff7f0e"/>
<path d="M100.2 188.99L102.35 191.14L100.2 193.29L98.05 191.14Z" fill="#ff7f0e"/>
<path d="M103.76 212.44L105.91 214.59L103.76 216.74L101.61 214.59Z" fill="#ff7f0e"/>
<path d="M107.32 238.32L109.47 240.47L107.32 242.62L105.17 240.47Z" fill="#ff7f0e"/>
<path d="M110.89 227.35L113.04 229.5L110.89 231.65L108.74 229.5Z" fill="#ff7f0e"/>
<path d="M114.45 224.03L116.6 226.18L114.45 228.33L112.3 226.18Z" fill="#ff7f0e"/>
<path d="M118.01 238.94L120.16 241.09L118.01 243.24L115.86 241.09Z" fill="#ff7f0e"/>
<path d="M121.58 223.62L123.73 225.77L121.58 227.92L119.42 225.77Z" fill="#ff7f0e"/>
<path d="M125.14 207.3L127.29 209.45L125.14 211.6L122.99 209.45Z" fill="#ff7f0e"/>
<path d="M128.7 240.19L130.85 242.34L128.7 244.49L126.55 242.34Z" fill="#ff7f0e"/>
<path d="M132.26 264L134.41 266.15L132.26 268.3L130.11 266.15Z" fill="#ff7f0e"/>
<path d="M135.83 251.78L137.98 253.93L135.83 256.08L133.68 253.93Z" fill="#ff7f0e"/>
<path d="M139.39 254.48L141.54 256.63L139.39 258.78L137.24 256.63Z" fill="#ff7f0e"/>
<path d="M142.95 238.12L145.1 240.27L142.95 242.42L140.8 240.27Z" fill="#ff7f0e"/>
<path d="M146.52 235.01L148.67 237.16L146.52 239.31L144.37 237.16Z" fill="#ff7f0e"/>
<path d="M150.08 216.37L152.23 218.52L150.08 220.67L147.93 218.52Z" fill="#ff7f0e"/>
<path d="M153.64 247.02L155.79 249.17L153.64 251.32L151.49 249.17Z" fill="#ff7f0e"/>
<path d="M157.21 262.97L159.36 265.12L157.21 267.27L155.06 265.12Z" fill="#ff7f0e"/>
<path d="M160.77 256.88L162.92 259.03L160.77 261.18L158.62 259.03Z" fill="#ff7f0e"/>
<path d="M164.33 263.38L166.48 265.53L164.33 267.68L162.18 265.53Z" fill="#ff7f0e"/>
<path d="M167.89 232.15L170.04 234.3L167.89 236.45L165.74 234.3Z" fill="#ff7f0e"/>
<path d="M171.46 217.41L173.61 219.56L171.46 221.71L169.31 219.56Z" fill="#ff7f0e"/>
<path d="M175.02 202.17L177.17 204.32L175.02 206.47L172.87 204.32Z" fill="#ff7f0e"/>
<path d="M178.58 269.72L180.73 271.87L178.58 274.02L176.43 271.87Z" fill="#ff7f0e"/>
<path d="M182.15 272.49L184.3 274.64L182.15 276.79L180 274.64Z" fill="#ff7f0e"/>
<path d="M185.71 263.38L187.86 265.53L185.71 267.68L183.56 265.53Z" fill="#ff7f0e"/>
<path d="M189.27 262.97L191.42 265.12L189.27 267.27L187.12 265.12Z" fill="#ff7f0e"/>
<path d="M192.84 262.35L194.99 264.5L192.84 266.65L190.69 264.5Z" fill="#ff7f0e"/>
<path d="M196.4 221.55L198.55 223.7L196.4 225.85L194.25 223.7Z" fill="#ff7f0e"/>
<path d="M199.96 238.53L202.11 240.68L199.96 242.83L197.81 240.68Z" fill="#ff7f0e"/>
<path d="M203.52 251.49L205.67 253.64L203.52 255.79L201.37 253.64Z" fill="#ff7f0e"/>
<path d="M207.09 225.69L209.24 227.84L207.09 229.99L204.94 227.84Z" fill="#ff7f0e"/>
<path d="M210.65 218.24L212.8 220.39L210.65 222.54L208.5 220.39Z" fill="#ff7f0e"/>
<path d="M214.21 227.64L216.36 229.79L214.21 231.94L212.06 229.79Z" fill="#ff7f0e"/>
<path d="M217.78 246.4L219.93 248.55L217.78 250.7L215.63 248.55Z" fill="#ff7f0e"/>
<path d="M221.34 249.22L223.49 251.37L221.34 253.52L219.19 251.37Z" fill="#ff7f0e"/>
<path d="M224.9 225.4L227.05 227.55L224.9 229.7L222.75 227.55Z" fill="#ff7f0e"/>
<path d="M228.47 247.85L230.62 250L228.47 252.15L226.31 250Z" fill="#ff7f0e"/>
<path d="M232.03 215.34L234.18 217.49L232.03 219.64L229.88 217.49Z" fill="#ff7f0e"/>
<path d="M235.59 245.57L237.74 247.72L235.59 249.87L233.44 247.72Z" fill="#ff7f0e"/>
<path d="M239.15 269.59L241.3 271.74L239.15 273.89L237 271.74Z" fill="#ff7f0e"/>
<path d="M242.72 265.04L244.87 267.19L242.72 269.34L240.57 267.19Z" fill="#ff7f0e"/>
<rect x="22.5" y="165.1" width="230.9" height="114.9" fill="none" stroke="#000" stroke-width="0.34"/>
<line x1="32.5" y1="280" x2="32.5" y2="281.4" stroke="#000" stroke-width="0.34"/>
<text x="32.5" y="286" text-anchor="middle" class="tk" transform="rotate(0.06 32.5 286)">0</text>
<line x1="68.13" y1="280" x2="68.13" y2="281.4" stroke="#000" stroke-width="0.34"/>
<text x="68.13" y="286" text-anchor="middle" class="tk" transform="rotate(0.06 68.13 286)">10</text>
<line x1="103.76" y1="280" x2="103.76" y2="281.4" stroke="#000" stroke-width="0.34"/>
<text x="103.76" y="286" text-anchor="middle" class="tk" transform="rotate(0.06 103.76 286)">20</text>
<line x1="139.39" y1="280" x2="139.39" y2="281.4" stroke="#000" stroke-width="0.34"/>
<text x="139.39" y="286" text-anchor="middle" class="tk" transform="rotate(0.06 139.39 286)">30</text>
<line x1="175.02" y1="280" x2="175.02" y2="281.4" stroke="#000" stroke-width="0.34"/>
<text x="175.02" y="286" text-anchor="middle" class="tk" transform="rotate(0.06 175.02 286)">40</text>
<line x1="210.65" y1="280" x2="210.65" y2="281.4" stroke="#000" stroke-width="0.34"/>
<text x="210.65" y="286" text-anchor="middle" class="tk" transform="rotate(0.06 210.65 286)">50</text>
<line x1="246.28" y1="280" x2="246.28" y2="281.4" stroke="#000" stroke-width="0.34"/>
<text x="246.28" y="286" text-anchor="middle" class="tk" transform="rotate(0.06 246.28 286)">60</text>
<line x1="21.1" y1="185.37" x2="22.5" y2="185.37" stroke="#000" stroke-width="0.34"/>
<text x="19.9" y="186.92" text-anchor="end" class="tk" transform="rotate(0.06 19.9 186.92)">0.5</text>
<line x1="21.1" y1="206.1" x2="22.5" y2="206.1" stroke="#000" stroke-width="0.34"/>
<text x="19.9" y="207.65" text-anchor="end" class="tk" transform="rotate(0.06 19.9 207.65)">0.0</text>
<line x1="21.1" y1="226.83" x2="22.5" y2="226.83" stroke="#000" stroke-width="0.34"/>
<text x="19.9" y="228.38" text-anchor="end" class="tk" transform="rotate(0.06 19.9 228.38)">−0.5</text>
<line x1="21.1" y1="247.56" x2="22.5" y2="247.56" stroke="#000" stroke-width="0.34"/>
<text x="19.9" y="249.11" text-anchor="end" class="tk" transform="rotate(0.06 19.9 249.11)">−1.0</text>
<line x1="21.1" y1="268.29" x2="22.5" y2="268.29" stroke="#000" stroke-width="0.34"/>
<text x="19.9" y="269.84" text-anchor="end" class="tk" transform="rotate(0.06 19.9 269.84)">−1.5</text>
<text x="137.95" y="162.8" text-anchor="middle" transform="rotate(0.06 137.95 162.8)">Informer forecasts apparel sales for the next 60 days</text>
<text x="137.95" y="292.2" text-anchor="middle" transform="rotate(0.06 137.95 292.2)">Time Step (days)</text>
<text x="6.7" y="222.55" text-anchor="middle" transform="rotate(-89.94 6.7 222.55)">Value</text>
<rect x="192.39" y="167.2" width="58.91" height="14.7" rx="0.9" fill="#fff" fill-opacity="0.8" stroke="#d6d6d6" stroke-width="0.4"/>
<line x1="193.99" y1="170.9" x2="203.89" y2="170.9" stroke="#1f77b4" stroke-width="0.78"/>
<path d="M198.94 169.15L200.69 172.65L197.19 172.65Z" fill="#1f77b4"/>
<text x="207.19" y="172.8" transform="rotate(0.06 207.19 172.8)">Informer Predicted</text>
<line x1="193.99" y1="177.5" x2="203.89" y2="177.5" stroke="#ff7f0e" stroke-width="0.78"/>
<path d="M198.94 175.35L201.09 177.5L198.94 179.65L196.79 177.5Z" fill="#ff7f0e"/>
<text x="207.19" y="179.4" transform="rotate(0.06 207.19 179.4)">Ground Truth</text>
<text class="cap" transform="translate(129.2 306.3) rotate(0.06) scale(0.98 1)" text-anchor="middle"><tspan class="par">(</tspan><tspan class="let">c</tspan><tspan class="par">)</tspan></text>
<line x1="321.3" y1="164.7" x2="321.3" y2="279.2" stroke="#dcdcdc" stroke-width="0.4"/>
<line x1="357.02" y1="164.7" x2="357.02" y2="279.2" stroke="#dcdcdc" stroke-width="0.4"/>
<line x1="392.74" y1="164.7" x2="392.74" y2="279.2" stroke="#dcdcdc" stroke-width="0.4"/>
<line x1="428.46" y1="164.7" x2="428.46" y2="279.2" stroke="#dcdcdc" stroke-width="0.4"/>
<line x1="464.18" y1="164.7" x2="464.18" y2="279.2" stroke="#dcdcdc" stroke-width="0.4"/>
<line x1="499.9" y1="164.7" x2="499.9" y2="279.2" stroke="#dcdcdc" stroke-width="0.4"/>
<line x1="535.62" y1="164.7" x2="535.62" y2="279.2" stroke="#dcdcdc" stroke-width="0.4"/>
<line x1="310.6" y1="172.89" x2="542.4" y2="172.89" stroke="#dcdcdc" stroke-width="0.4"/>
<line x1="310.6" y1="191.97" x2="542.4" y2="191.97" stroke="#dcdcdc" stroke-width="0.4"/>
<line x1="310.6" y1="211.06" x2="542.4" y2="211.06" stroke="#dcdcdc" stroke-width="0.4"/>
<line x1="310.6" y1="230.15" x2="542.4" y2="230.15" stroke="#dcdcdc" stroke-width="0.4"/>
<line x1="310.6" y1="249.23" x2="542.4" y2="249.23" stroke="#dcdcdc" stroke-width="0.4"/>
<line x1="310.6" y1="268.31" x2="542.4" y2="268.31" stroke="#dcdcdc" stroke-width="0.4"/>
<polyline points="321.3,221.85 324.87,217.89 328.44,208.25 332.02,202.31 335.59,196.07 339.16,189.21 342.73,235.4 346.3,232.4 349.88,230.61 353.45,218 357.02,208.06 360.59,196.07 364.16,184 367.74,235.79 371.31,231.48 374.88,225.69 378.45,220.44 382.02,210.65 385.6,175.89 389.17,170.1 392.74,218.92 396.31,216.86 399.88,215.41 403.46,206.73 407.03,195.92 410.6,188.83 414.17,180.68 417.74,226.99 421.32,227.67 424.89,218.92 428.46,209.55 432.03,203.11 435.6,191.99 439.18,182.36 442.75,226.99 446.32,226.76 449.89,220.44 453.46,213.09 457.04,204.6 460.61,195.19 464.18,187.88 467.75,230.61 471.32,225.69 474.9,225.69 478.47,217.77 482.04,211 485.61,201.78 489.18,191.99 492.76,238.6 496.33,210.23 499.9,205.09 503.47,202.05 507.04,194.85 510.62,188.07 514.19,177.1 517.76,224.59 521.33,218.92 524.9,213.7 528.48,208.29 532.05,216.29" fill="none" stroke="#1f77b4" stroke-width="0.78" stroke-linejoin="round"/>
<path d="M321.3 220.1L323.05 223.6L319.55 223.6Z" fill="#1f77b4"/>
<path d="M324.87 216.14L326.62 219.64L323.12 219.64Z" fill="#1f77b4"/>
<path d="M328.44 206.5L330.19 210L326.69 210Z" fill="#1f77b4"/>
<path d="M332.02 200.56L333.77 204.06L330.27 204.06Z" fill="#1f77b4"/>
<path d="M335.59 194.32L337.34 197.82L333.84 197.82Z" fill="#1f77b4"/>
<path d="M339.16 187.46L340.91 190.96L337.41 190.96Z" fill="#1f77b4"/>
<path d="M342.73 233.65L344.48 237.15L340.98 237.15Z" fill="#1f77b4"/>
<path d="M346.3 230.65L348.05 234.15L344.55 234.15Z" fill="#1f77b4"/>
<path d="M349.88 228.86L351.63 232.36L348.13 232.36Z" fill="#1f77b4"/>
<path d="M353.45 216.25L355.2 219.75L351.7 219.75Z" fill="#1f77b4"/>
<path d="M357.02 206.31L358.77 209.81L355.27 209.81Z" fill="#1f77b4"/>
<path d="M360.59 194.32L362.34 197.82L358.84 197.82Z" fill="#1f77b4"/>
<path d="M364.16 182.25L365.91 185.75L362.41 185.75Z" fill="#1f77b4"/>
<path d="M367.74 234.04L369.49 237.54L365.99 237.54Z" fill="#1f77b4"/>
<path d="M371.31 229.73L373.06 233.23L369.56 233.23Z" fill="#1f77b4"/>
<path d="M374.88 223.94L376.63 227.44L373.13 227.44Z" fill="#1f77b4"/>
<path d="M378.45 218.69L380.2 222.19L376.7 222.19Z" fill="#1f77b4"/>
<path d="M382.02 208.9L383.77 212.4L380.27 212.4Z" fill="#1f77b4"/>
<path d="M385.6 174.14L387.35 177.64L383.85 177.64Z" fill="#1f77b4"/>
<path d="M389.17 168.35L390.92 171.85L387.42 171.85Z" fill="#1f77b4"/>
<path d="M392.74 217.17L394.49 220.67L390.99 220.67Z" fill="#1f77b4"/>
<path d="M396.31 215.11L398.06 218.61L394.56 218.61Z" fill="#1f77b4"/>
<path d="M399.88 213.66L401.63 217.16L398.13 217.16Z" fill="#1f77b4"/>
<path d="M403.46 204.98L405.21 208.48L401.71 208.48Z" fill="#1f77b4"/>
<path d="M407.03 194.17L408.78 197.67L405.28 197.67Z" fill="#1f77b4"/>
<path d="M410.6 187.08L412.35 190.58L408.85 190.58Z" fill="#1f77b4"/>
<path d="M414.17 178.93L415.92 182.43L412.42 182.43Z" fill="#1f77b4"/>
<path d="M417.74 225.24L419.49 228.74L415.99 228.74Z" fill="#1f77b4"/>
<path d="M421.32 225.92L423.07 229.42L419.57 229.42Z" fill="#1f77b4"/>
<path d="M424.89 217.17L426.64 220.67L423.14 220.67Z" fill="#1f77b4"/>
<path d="M428.46 207.8L430.21 211.3L426.71 211.3Z" fill="#1f77b4"/>
<path d="M432.03 201.36L433.78 204.86L430.28 204.86Z" fill="#1f77b4"/>
<path d="M435.6 190.24L437.35 193.74L433.85 193.74Z" fill="#1f77b4"/>
<path d="M439.18 180.61L440.93 184.11L437.43 184.11Z" fill="#1f77b4"/>
<path d="M442.75 225.24L444.5 228.74L441 228.74Z" fill="#1f77b4"/>
<path d="M446.32 225.01L448.07 228.51L444.57 228.51Z" fill="#1f77b4"/>
<path d="M449.89 218.69L451.64 222.19L448.14 222.19Z" fill="#1f77b4"/>
<path d="M453.46 211.34L455.21 214.84L451.71 214.84Z" fill="#1f77b4"/>
<path d="M457.04 202.85L458.79 206.35L455.29 206.35Z" fill="#1f77b4"/>
<path d="M460.61 193.44L462.36 196.94L458.86 196.94Z" fill="#1f77b4"/>
<path d="M464.18 186.13L465.93 189.63L462.43 189.63Z" fill="#1f77b4"/>
<path d="M467.75 228.86L469.5 232.36L466 232.36Z" fill="#1f77b4"/>
<path d="M471.32 223.94L473.07 227.44L469.57 227.44Z" fill="#1f77b4"/>
<path d="M474.9 223.94L476.65 227.44L473.15 227.44Z" fill="#1f77b4"/>
<path d="M478.47 216.02L480.22 219.52L476.72 219.52Z" fill="#1f77b4"/>
<path d="M482.04 209.25L483.79 212.75L480.29 212.75Z" fill="#1f77b4"/>
<path d="M485.61 200.03L487.36 203.53L483.86 203.53Z" fill="#1f77b4"/>
<path d="M489.18 190.24L490.93 193.74L487.43 193.74Z" fill="#1f77b4"/>
<path d="M492.76 236.85L494.51 240.35L491.01 240.35Z" fill="#1f77b4"/>
<path d="M496.33 208.48L498.08 211.98L494.58 211.98Z" fill="#1f77b4"/>
<path d="M499.9 203.34L501.65 206.84L498.15 206.84Z" fill="#1f77b4"/>
<path d="M503.47 200.3L505.22 203.8L501.72 203.8Z" fill="#1f77b4"/>
<path d="M507.04 193.1L508.79 196.6L505.29 196.6Z" fill="#1f77b4"/>
<path d="M510.62 186.32L512.37 189.82L508.87 189.82Z" fill="#1f77b4"/>
<path d="M514.19 175.35L515.94 178.85L512.44 178.85Z" fill="#1f77b4"/>
<path d="M517.76 222.84L519.51 226.34L516.01 226.34Z" fill="#1f77b4"/>
<path d="M521.33 217.17L523.08 220.67L519.58 220.67Z" fill="#1f77b4"/>
<path d="M524.9 211.95L526.65 215.45L523.15 215.45Z" fill="#1f77b4"/>
<path d="M528.48 206.54L530.23 210.04L526.73 210.04Z" fill="#1f77b4"/>
<path d="M532.05 214.54L533.8 218.04L530.3 218.04Z" fill="#1f77b4"/>
<polyline points="321.3,247.66 324.87,240.8 328.44,240.23 332.02,251.48 335.59,204.38 339.16,211.25 342.73,244.8 346.3,243.66 349.88,266.35 353.45,259.48 357.02,259.48 360.59,224.97 364.16,234.13 367.74,266.92 371.31,260.63 374.88,258.91 378.45,273.25 382.02,265.01 385.6,177.65 389.17,197.29 392.74,218.87 396.31,242.71 399.88,232.6 403.46,229.55 407.03,243.28 410.6,229.17 414.17,214.15 417.74,244.42 421.32,266.35 424.89,255.1 428.46,257.58 432.03,242.52 435.6,239.66 439.18,222.5 442.75,250.71 446.32,265.39 449.89,259.79 453.46,265.78 457.04,237.02 460.61,223.45 464.18,209.42 467.75,271.61 471.32,274.16 474.9,265.78 478.47,265.39 482.04,264.82 485.61,227.26 489.18,242.9 492.76,254.83 496.33,231.08 499.9,224.21 503.47,232.87 507.04,250.14 510.62,252.73 514.19,230.81 517.76,251.48 521.33,221.54 524.9,249.38 528.48,271.49 532.05,267.3" fill="none" stroke="#ff7f0e" stroke-width="0.78" stroke-linejoin="round"/>
<path d="M321.3 245.51L323.45 247.66L321.3 249.81L319.15 247.66Z" fill="#ff7f0e"/>
<path d="M324.87 238.65L327.02 240.8L324.87 242.95L322.72 240.8Z" fill="#ff7f0e"/>
<path d="M328.44 238.08L330.59 240.23L328.44 242.38L326.29 240.23Z" fill="#ff7f0e"/>
<path d="M332.02 249.33L334.17 251.48L332.02 253.63L329.87 251.48Z" fill="#ff7f0e"/>
<path d="M335.59 202.23L337.74 204.38L335.59 206.53L333.44 204.38Z" fill="#ff7f0e"/>
<path d="M339.16 209.1L341.31 211.25L339.16 213.4L337.01 211.25Z" fill="#ff7f0e"/>
<path d="M342.73 242.65L344.88 244.8L342.73 246.95L340.58 244.8Z" fill="#ff7f0e"/>
<path d="M346.3 241.51L348.45 243.66L346.3 245.81L344.15 243.66Z" fill="#ff7f0e"/>
<path d="M349.88 264.2L352.03 266.35L349.88 268.5L347.73 266.35Z" fill="#ff7f0e"/>
<path d="M353.45 257.33L355.6 259.48L353.45 261.63L351.3 259.48Z" fill="#ff7f0e"/>
<path d="M357.02 257.33L359.17 259.48L357.02 261.63L354.87 259.48Z" fill="#ff7f0e"/>
<path d="M360.59 222.82L362.74 224.97L360.59 227.12L358.44 224.97Z" fill="#ff7f0e"/>
<path d="M364.16 231.98L366.31 234.13L364.16 236.28L362.01 234.13Z" fill="#ff7f0e"/>
<path d="M367.74 264.77L369.89 266.92L367.74 269.07L365.59 266.92Z" fill="#ff7f0e"/>
<path d="M371.31 258.48L373.46 260.63L371.31 262.78L369.16 260.63Z" fill="#ff7f0e"/>
<path d="M374.88 256.76L377.03 258.91L374.88 261.06L372.73 258.91Z" fill="#ff7f0e"/>
<path d="M378.45 271.1L380.6 273.25L378.45 275.4L376.3 273.25Z" fill="#ff7f0e"/>
<path d="M382.02 262.86L384.17 265.01L382.02 267.16L379.87 265.01Z" fill="#ff7f0e"/>
<path d="M385.6 175.5L387.75 177.65L385.6 179.8L383.45 177.65Z" fill="#ff7f0e"/>
<path d="M389.17 195.14L391.32 197.29L389.17 199.44L387.02 197.29Z" fill="#ff7f0e"/>
<path d="M392.74 216.72L394.89 218.87L392.74 221.02L390.59 218.87Z" fill="#ff7f0e"/>
<path d="M396.31 240.56L398.46 242.71L396.31 244.86L394.16 242.71Z" fill="#ff7f0e"/>
<path d="M399.88 230.45L402.03 232.6L399.88 234.75L397.73 232.6Z" fill="#ff7f0e"/>
<path d="M403.46 227.4L405.61 229.55L403.46 231.7L401.31 229.55Z" fill="#ff7f0e"/>
<path d="M407.03 241.13L409.18 243.28L407.03 245.43L404.88 243.28Z" fill="#ff7f0e"/>
<path d="M410.6 227.02L412.75 229.17L410.6 231.32L408.45 229.17Z" fill="#ff7f0e"/>
<path d="M414.17 212L416.32 214.15L414.17 216.3L412.02 214.15Z" fill="#ff7f0e"/>
<path d="M417.74 242.27L419.89 244.42L417.74 246.57L415.59 244.42Z" fill="#ff7f0e"/>
<path d="M421.32 264.2L423.47 266.35L421.32 268.5L419.17 266.35Z" fill="#ff7f0e"/>
<path d="M424.89 252.95L427.04 255.1L424.89 257.25L422.74 255.1Z" fill="#ff7f0e"/>
<path d="M428.46 255.43L430.61 257.58L428.46 259.73L426.31 257.58Z" fill="#ff7f0e"/>
<path d="M432.03 240.37L434.18 242.52L432.03 244.67L429.88 242.52Z" fill="#ff7f0e"/>
<path d="M435.6 237.51L437.75 239.66L435.6 241.81L433.45 239.66Z" fill="#ff7f0e"/>
<path d="M439.18 220.35L441.33 222.5L439.18 224.65L437.03 222.5Z" fill="#ff7f0e"/>
<path d="M442.75 248.56L444.9 250.71L442.75 252.86L440.6 250.71Z" fill="#ff7f0e"/>
<path d="M446.32 263.24L448.47 265.39L446.32 267.54L444.17 265.39Z" fill="#ff7f0e"/>
<path d="M449.89 257.64L452.04 259.79L449.89 261.94L447.74 259.79Z" fill="#ff7f0e"/>
<path d="M453.46 263.63L455.61 265.78L453.46 267.93L451.31 265.78Z" fill="#ff7f0e"/>
<path d="M457.04 234.87L459.19 237.02L457.04 239.17L454.89 237.02Z" fill="#ff7f0e"/>
<path d="M460.61 221.3L462.76 223.45L460.61 225.6L458.46 223.45Z" fill="#ff7f0e"/>
<path d="M464.18 207.27L466.33 209.42L464.18 211.57L462.03 209.42Z" fill="#ff7f0e"/>
<path d="M467.75 269.46L469.9 271.61L467.75 273.76L465.6 271.61Z" fill="#ff7f0e"/>
<path d="M471.32 272.01L473.47 274.16L471.32 276.31L469.17 274.16Z" fill="#ff7f0e"/>
<path d="M474.9 263.63L477.05 265.78L474.9 267.93L472.75 265.78Z" fill="#ff7f0e"/>
<path d="M478.47 263.24L480.62 265.39L478.47 267.54L476.32 265.39Z" fill="#ff7f0e"/>
<path d="M482.04 262.67L484.19 264.82L482.04 266.97L479.89 264.82Z" fill="#ff7f0e"/>
<path d="M485.61 225.11L487.76 227.26L485.61 229.41L483.46 227.26Z" fill="#ff7f0e"/>
<path d="M489.18 240.75L491.33 242.9L489.18 245.05L487.03 242.9Z" fill="#ff7f0e"/>
<path d="M492.76 252.68L494.91 254.83L492.76 256.98L490.61 254.83Z" fill="#ff7f0e"/>
<path d="M496.33 228.93L498.48 231.08L496.33 233.23L494.18 231.08Z" fill="#ff7f0e"/>
<path d="M499.9 222.06L502.05 224.21L499.9 226.36L497.75 224.21Z" fill="#ff7f0e"/>
<path d="M503.47 230.72L505.62 232.87L503.47 235.02L501.32 232.87Z" fill="#ff7f0e"/>
<path d="M507.04 247.99L509.19 250.14L507.04 252.29L504.89 250.14Z" fill="#ff7f0e"/>
<path d="M510.62 250.58L512.77 252.73L510.62 254.88L508.47 252.73Z" fill="#ff7f0e"/>
<path d="M514.19 228.66L516.34 230.81L514.19 232.96L512.04 230.81Z" fill="#ff7f0e"/>
<path d="M517.76 249.33L519.91 251.48L517.76 253.63L515.61 251.48Z" fill="#ff7f0e"/>
<path d="M521.33 219.39L523.48 221.54L521.33 223.69L519.18 221.54Z" fill="#ff7f0e"/>
<path d="M524.9 247.23L527.05 249.38L524.9 251.53L522.75 249.38Z" fill="#ff7f0e"/>
<path d="M528.48 269.34L530.63 271.49L528.48 273.64L526.33 271.49Z" fill="#ff7f0e"/>
<path d="M532.05 265.15L534.2 267.3L532.05 269.45L529.9 267.3Z" fill="#ff7f0e"/>
<rect x="310.6" y="164.7" width="231.8" height="114.5" fill="none" stroke="#000" stroke-width="0.34"/>
<line x1="321.3" y1="279.2" x2="321.3" y2="280.6" stroke="#000" stroke-width="0.34"/>
<text x="321.3" y="285.2" text-anchor="middle" class="tk" transform="rotate(0.06 321.3 285.2)">0</text>
<line x1="357.02" y1="279.2" x2="357.02" y2="280.6" stroke="#000" stroke-width="0.34"/>
<text x="357.02" y="285.2" text-anchor="middle" class="tk" transform="rotate(0.06 357.02 285.2)">10</text>
<line x1="392.74" y1="279.2" x2="392.74" y2="280.6" stroke="#000" stroke-width="0.34"/>
<text x="392.74" y="285.2" text-anchor="middle" class="tk" transform="rotate(0.06 392.74 285.2)">20</text>
<line x1="428.46" y1="279.2" x2="428.46" y2="280.6" stroke="#000" stroke-width="0.34"/>
<text x="428.46" y="285.2" text-anchor="middle" class="tk" transform="rotate(0.06 428.46 285.2)">30</text>
<line x1="464.18" y1="279.2" x2="464.18" y2="280.6" stroke="#000" stroke-width="0.34"/>
<text x="464.18" y="285.2" text-anchor="middle" class="tk" transform="rotate(0.06 464.18 285.2)">40</text>
<line x1="499.9" y1="279.2" x2="499.9" y2="280.6" stroke="#000" stroke-width="0.34"/>
<text x="499.9" y="285.2" text-anchor="middle" class="tk" transform="rotate(0.06 499.9 285.2)">50</text>
<line x1="535.62" y1="279.2" x2="535.62" y2="280.6" stroke="#000" stroke-width="0.34"/>
<text x="535.62" y="285.2" text-anchor="middle" class="tk" transform="rotate(0.06 535.62 285.2)">60</text>
<line x1="309.2" y1="172.89" x2="310.6" y2="172.89" stroke="#000" stroke-width="0.34"/>
<text x="308" y="174.44" text-anchor="end" class="tk" transform="rotate(0.06 308 174.44)">1.0</text>
<line x1="309.2" y1="191.97" x2="310.6" y2="191.97" stroke="#000" stroke-width="0.34"/>
<text x="308" y="193.53" text-anchor="end" class="tk" transform="rotate(0.06 308 193.53)">0.5</text>
<line x1="309.2" y1="211.06" x2="310.6" y2="211.06" stroke="#000" stroke-width="0.34"/>
<text x="308" y="212.61" text-anchor="end" class="tk" transform="rotate(0.06 308 212.61)">0.0</text>
<line x1="309.2" y1="230.15" x2="310.6" y2="230.15" stroke="#000" stroke-width="0.34"/>
<text x="308" y="231.7" text-anchor="end" class="tk" transform="rotate(0.06 308 231.7)">−0.5</text>
<line x1="309.2" y1="249.23" x2="310.6" y2="249.23" stroke="#000" stroke-width="0.34"/>
<text x="308" y="250.78" text-anchor="end" class="tk" transform="rotate(0.06 308 250.78)">−1.0</text>
<line x1="309.2" y1="268.31" x2="310.6" y2="268.31" stroke="#000" stroke-width="0.34"/>
<text x="308" y="269.87" text-anchor="end" class="tk" transform="rotate(0.06 308 269.87)">−1.5</text>
<text x="426.5" y="162.4" text-anchor="middle" transform="rotate(0.06 426.5 162.4)">Reformer forecasts apparel sales for the next 60 days</text>
<text x="426.5" y="291.4" text-anchor="middle" transform="rotate(0.06 426.5 291.4)">Time Step (days)</text>
<text x="294.8" y="221.95" text-anchor="middle" transform="rotate(-89.94 294.8 221.95)">Value</text>
<rect x="312.7" y="166.8" width="60.44" height="14.7" rx="0.9" fill="#fff" fill-opacity="0.8" stroke="#d6d6d6" stroke-width="0.4"/>
<line x1="314.3" y1="170.5" x2="324.2" y2="170.5" stroke="#1f77b4" stroke-width="0.78"/>
<path d="M319.25 168.75L321 172.25L317.5 172.25Z" fill="#1f77b4"/>
<text x="327.5" y="172.4" transform="rotate(0.06 327.5 172.4)">Reformer Predicted</text>
<line x1="314.3" y1="177.1" x2="324.2" y2="177.1" stroke="#ff7f0e" stroke-width="0.78"/>
<path d="M319.25 174.95L321.4 177.1L319.25 179.25L317.1 177.1Z" fill="#ff7f0e"/>
<text x="327.5" y="179" transform="rotate(0.06 327.5 179)">Ground Truth</text>
<text class="cap" transform="translate(418.35 306.05) rotate(0.06) scale(0.98 1)" text-anchor="middle"><tspan class="par">(</tspan><tspan class="let">d</tspan><tspan class="par">)</tspan></text>
<line x1="32.6" y1="316.8" x2="32.6" y2="432.6" stroke="#dcdcdc" stroke-width="0.4"/>
<line x1="68.4" y1="316.8" x2="68.4" y2="432.6" stroke="#dcdcdc" stroke-width="0.4"/>
<line x1="104.2" y1="316.8" x2="104.2" y2="432.6" stroke="#dcdcdc" stroke-width="0.4"/>
<line x1="140" y1="316.8" x2="140" y2="432.6" stroke="#dcdcdc" stroke-width="0.4"/>
<line x1="175.8" y1="316.8" x2="175.8" y2="432.6" stroke="#dcdcdc" stroke-width="0.4"/>
<line x1="211.6" y1="316.8" x2="211.6" y2="432.6" stroke="#dcdcdc" stroke-width="0.4"/>
<line x1="247.4" y1="316.8" x2="247.4" y2="432.6" stroke="#dcdcdc" stroke-width="0.4"/>
<line x1="22.1" y1="337.45" x2="254.4" y2="337.45" stroke="#dcdcdc" stroke-width="0.4"/>
<line x1="22.1" y1="358.3" x2="254.4" y2="358.3" stroke="#dcdcdc" stroke-width="0.4"/>
<line x1="22.1" y1="379.15" x2="254.4" y2="379.15" stroke="#dcdcdc" stroke-width="0.4"/>
<line x1="22.1" y1="400" x2="254.4" y2="400" stroke="#dcdcdc" stroke-width="0.4"/>
<line x1="22.1" y1="420.85" x2="254.4" y2="420.85" stroke="#dcdcdc" stroke-width="0.4"/>
<polyline points="32.6,383.01 36.18,377.83 39.76,382.63 43.34,378.66 46.92,362.78 50.5,369.22 54.08,380.42 57.66,388.53 61.24,390.7 64.82,390.03 68.4,380.42 71.98,362.36 75.56,368.8 79.14,385.9 82.72,386.81 86.3,391.08 89.88,377.41 93.46,377.41 97.04,361.11 100.62,364.58 104.2,381.72 107.78,387.73 111.36,383.01 114.94,377.2 118.52,373.1 122.1,360.19 125.68,368.8 129.26,384.6 132.84,380.8 136.42,383.01 140,374.61 143.58,373.31 147.16,357.18 150.74,361.69 154.32,388.99 157.9,387.61 161.48,382.3 165.06,391.08 168.64,379.5 172.22,365.29 175.8,370.1 179.38,387.73 182.96,385.52 186.54,388.49 190.12,383.39 193.7,379.08 197.28,365.29 200.86,369.97 204.44,379.75 208.02,383.39 211.6,374.61 215.18,383.39 218.76,376.7 222.34,365.29 225.92,369.59 229.5,388.11 233.08,389.62 236.66,386.61 240.24,388.91 243.82,382.51" fill="none" stroke="#1f77b4" stroke-width="0.78" stroke-linejoin="round"/>
<path d="M32.6 381.26L34.35 384.76L30.85 384.76Z" fill="#1f77b4"/>
<path d="M36.18 376.08L37.93 379.58L34.43 379.58Z" fill="#1f77b4"/>
<path d="M39.76 380.88L41.51 384.38L38.01 384.38Z" fill="#1f77b4"/>
<path d="M43.34 376.91L45.09 380.41L41.59 380.41Z" fill="#1f77b4"/>
<path d="M46.92 361.03L48.67 364.53L45.17 364.53Z" fill="#1f77b4"/>
<path d="M50.5 367.47L52.25 370.97L48.75 370.97Z" fill="#1f77b4"/>
<path d="M54.08 378.67L55.83 382.17L52.33 382.17Z" fill="#1f77b4"/>
<path d="M57.66 386.78L59.41 390.28L55.91 390.28Z" fill="#1f77b4"/>
<path d="M61.24 388.95L62.99 392.45L59.49 392.45Z" fill="#1f77b4"/>
<path d="M64.82 388.28L66.57 391.78L63.07 391.78Z" fill="#1f77b4"/>
<path d="M68.4 378.67L70.15 382.17L66.65 382.17Z" fill="#1f77b4"/>
<path d="M71.98 360.61L73.73 364.11L70.23 364.11Z" fill="#1f77b4"/>
<path d="M75.56 367.05L77.31 370.55L73.81 370.55Z" fill="#1f77b4"/>
<path d="M79.14 384.15L80.89 387.65L77.39 387.65Z" fill="#1f77b4"/>
<path d="M82.72 385.06L84.47 388.56L80.97 388.56Z" fill="#1f77b4"/>
<path d="M86.3 389.33L88.05 392.83L84.55 392.83Z" fill="#1f77b4"/>
<path d="M89.88 375.66L91.63 379.16L88.13 379.16Z" fill="#1f77b4"/>
<path d="M93.46 375.66L95.21 379.16L91.71 379.16Z" fill="#1f77b4"/>
<path d="M97.04 359.36L98.79 362.86L95.29 362.86Z" fill="#1f77b4"/>
<path d="M100.62 362.83L102.37 366.33L98.87 366.33Z" fill="#1f77b4"/>
<path d="M104.2 379.97L105.95 383.47L102.45 383.47Z" fill="#1f77b4"/>
<path d="M107.78 385.98L109.53 389.48L106.03 389.48Z" fill="#1f77b4"/>
<path d="M111.36 381.26L113.11 384.76L109.61 384.76Z" fill="#1f77b4"/>
<path d="M114.94 375.45L116.69 378.95L113.19 378.95Z" fill="#1f77b4"/>
<path d="M118.52 371.35L120.27 374.85L116.77 374.85Z" fill="#1f77b4"/>
<path d="M122.1 358.44L123.85 361.94L120.35 361.94Z" fill="#1f77b4"/>
<path d="M125.68 367.05L127.43 370.55L123.93 370.55Z" fill="#1f77b4"/>
<path d="M129.26 382.85L131.01 386.35L127.51 386.35Z" fill="#1f77b4"/>
<path d="M132.84 379.05L134.59 382.55L131.09 382.55Z" fill="#1f77b4"/>
<path d="M136.42 381.26L138.17 384.76L134.67 384.76Z" fill="#1f77b4"/>
<path d="M140 372.86L141.75 376.36L138.25 376.36Z" fill="#1f77b4"/>
<path d="M143.58 371.56L145.33 375.06L141.83 375.06Z" fill="#1f77b4"/>
<path d="M147.16 355.43L148.91 358.93L145.41 358.93Z" fill="#1f77b4"/>
<path d="M150.74 359.94L152.49 363.44L148.99 363.44Z" fill="#1f77b4"/>
<path d="M154.32 387.24L156.07 390.74L152.57 390.74Z" fill="#1f77b4"/>
<path d="M157.9 385.86L159.65 389.36L156.15 389.36Z" fill="#1f77b4"/>
<path d="M161.48 380.55L163.23 384.05L159.73 384.05Z" fill="#1f77b4"/>
<path d="M165.06 389.33L166.81 392.83L163.31 392.83Z" fill="#1f77b4"/>
<path d="M168.64 377.75L170.39 381.25L166.89 381.25Z" fill="#1f77b4"/>
<path d="M172.22 363.54L173.97 367.04L170.47 367.04Z" fill="#1f77b4"/>
<path d="M175.8 368.35L177.55 371.85L174.05 371.85Z" fill="#1f77b4"/>
<path d="M179.38 385.98L181.13 389.48L177.63 389.48Z" fill="#1f77b4"/>
<path d="M182.96 383.77L184.71 387.27L181.21 387.27Z" fill="#1f77b4"/>
<path d="M186.54 386.74L188.29 390.24L184.79 390.24Z" fill="#1f77b4"/>
<path d="M190.12 381.64L191.87 385.14L188.37 385.14Z" fill="#1f77b4"/>
<path d="M193.7 377.33L195.45 380.83L191.95 380.83Z" fill="#1f77b4"/>
<path d="M197.28 363.54L199.03 367.04L195.53 367.04Z" fill="#1f77b4"/>
<path d="M200.86 368.22L202.61 371.72L199.11 371.72Z" fill="#1f77b4"/>
<path d="M204.44 378L206.19 381.5L202.69 381.5Z" fill="#1f77b4"/>
<path d="M208.02 381.64L209.77 385.14L206.27 385.14Z" fill="#1f77b4"/>
<path d="M211.6 372.86L213.35 376.36L209.85 376.36Z" fill="#1f77b4"/>
<path d="M215.18 381.64L216.93 385.14L213.43 385.14Z" fill="#1f77b4"/>
<path d="M218.76 374.95L220.51 378.45L217.01 378.45Z" fill="#1f77b4"/>
<path d="M222.34 363.54L224.09 367.04L220.59 367.04Z" fill="#1f77b4"/>
<path d="M225.92 367.84L227.67 371.34L224.17 371.34Z" fill="#1f77b4"/>
<path d="M229.5 386.36L231.25 389.86L227.75 389.86Z" fill="#1f77b4"/>
<path d="M233.08 387.87L234.83 391.37L231.33 391.37Z" fill="#1f77b4"/>
<path d="M236.66 384.86L238.41 388.36L234.91 388.36Z" fill="#1f77b4"/>
<path d="M240.24 387.16L241.99 390.66L238.49 390.66Z" fill="#1f77b4"/>
<path d="M243.82 380.76L245.57 384.26L242.07 384.26Z" fill="#1f77b4"/>
<polyline points="32.6,398.29 36.18,390.79 39.76,390.16 43.34,402.45 46.92,351.01 50.5,358.5 54.08,395.16 57.66,393.91 61.24,418.7 64.82,411.2 68.4,411.2 71.98,373.5 75.56,383.5 79.14,419.33 82.72,412.45 86.3,410.58 89.88,426.24 93.46,417.24 97.04,321.8 100.62,343.26 104.2,366.84 107.78,392.87 111.36,381.83 114.94,378.5 118.52,393.5 122.1,378.08 125.68,361.67 129.26,394.75 132.84,418.7 136.42,406.41 140,409.12 143.58,392.66 147.16,389.54 150.74,370.79 154.32,401.62 157.9,417.66 161.48,411.54 165.06,418.08 168.64,386.67 172.22,371.84 175.8,356.51 179.38,424.45 182.96,427.24 186.54,418.08 190.12,417.66 193.7,417.03 197.28,376 200.86,393.08 204.44,406.12 208.02,380.17 211.6,372.67 215.18,382.12 218.76,401 222.34,403.83 225.92,379.88 229.5,402.45 233.08,369.75 236.66,400.16 240.24,424.32 243.82,419.74" fill="none" stroke="#ff7f0e" stroke-width="0.78" stroke-linejoin="round"/>
<path d="M32.6 396.14L34.75 398.29L32.6 400.44L30.45 398.29Z" fill="#ff7f0e"/>
<path d="M36.18 388.64L38.33 390.79L36.18 392.94L34.03 390.79Z" fill="#ff7f0e"/>
<path d="M39.76 388.01L41.91 390.16L39.76 392.31L37.61 390.16Z" fill="#ff7f0e"/>
<path d="M43.34 400.3L45.49 402.45L43.34 404.6L41.19 402.45Z" fill="#ff7f0e"/>
<path d="M46.92 348.86L49.07 351.01L46.92 353.16L44.77 351.01Z" fill="#ff7f0e"/>
<path d="M50.5 356.35L52.65 358.5L50.5 360.65L48.35 358.5Z" fill="#ff7f0e"/>
<path d="M54.08 393.01L56.23 395.16L54.08 397.31L51.93 395.16Z" fill="#ff7f0e"/>
<path d="M57.66 391.76L59.81 393.91L57.66 396.06L55.51 393.91Z" fill="#ff7f0e"/>
<path d="M61.24 416.55L63.39 418.7L61.24 420.85L59.09 418.7Z" fill="#ff7f0e"/>
<path d="M64.82 409.05L66.97 411.2L64.82 413.35L62.67 411.2Z" fill="#ff7f0e"/>
<path d="M68.4 409.05L70.55 411.2L68.4 413.35L66.25 411.2Z" fill="#ff7f0e"/>
<path d="M71.98 371.35L74.13 373.5L71.98 375.65L69.83 373.5Z" fill="#ff7f0e"/>
<path d="M75.56 381.35L77.71 383.5L75.56 385.65L73.41 383.5Z" fill="#ff7f0e"/>
<path d="M79.14 417.18L81.29 419.33L79.14 421.48L76.99 419.33Z" fill="#ff7f0e"/>
<path d="M82.72 410.3L84.87 412.45L82.72 414.6L80.57 412.45Z" fill="#ff7f0e"/>
<path d="M86.3 408.43L88.45 410.58L86.3 412.73L84.15 410.58Z" fill="#ff7f0e"/>
<path d="M89.88 424.09L92.03 426.24L89.88 428.39L87.73 426.24Z" fill="#ff7f0e"/>
<path d="M93.46 415.09L95.61 417.24L93.46 419.39L91.31 417.24Z" fill="#ff7f0e"/>
<path d="M97.04 319.65L99.19 321.8L97.04 323.95L94.89 321.8Z" fill="#ff7f0e"/>
<path d="M100.62 341.11L102.77 343.26L100.62 345.41L98.47 343.26Z" fill="#ff7f0e"/>
<path d="M104.2 364.69L106.35 366.84L104.2 368.99L102.05 366.84Z" fill="#ff7f0e"/>
<path d="M107.78 390.72L109.93 392.87L107.78 395.02L105.63 392.87Z" fill="#ff7f0e"/>
<path d="M111.36 379.68L113.51 381.83L111.36 383.98L109.21 381.83Z" fill="#ff7f0e"/>
<path d="M114.94 376.35L117.09 378.5L114.94 380.65L112.79 378.5Z" fill="#ff7f0e"/>
<path d="M118.52 391.35L120.67 393.5L118.52 395.65L116.37 393.5Z" fill="#ff7f0e"/>
<path d="M122.1 375.93L124.25 378.08L122.1 380.23L119.95 378.08Z" fill="#ff7f0e"/>
<path d="M125.68 359.52L127.83 361.67L125.68 363.82L123.53 361.67Z" fill="#ff7f0e"/>
<path d="M129.26 392.6L131.41 394.75L129.26 396.9L127.11 394.75Z" fill="#ff7f0e"/>
<path d="M132.84 416.55L134.99 418.7L132.84 420.85L130.69 418.7Z" fill="#ff7f0e"/>
<path d="M136.42 404.26L138.57 406.41L136.42 408.56L134.27 406.41Z" fill="#ff7f0e"/>
<path d="M140 406.97L142.15 409.12L140 411.27L137.85 409.12Z" fill="#ff7f0e"/>
<path d="M143.58 390.51L145.73 392.66L143.58 394.81L141.43 392.66Z" fill="#ff7f0e"/>
<path d="M147.16 387.39L149.31 389.54L147.16 391.69L145.01 389.54Z" fill="#ff7f0e"/>
<path d="M150.74 368.64L152.89 370.79L150.74 372.94L148.59 370.79Z" fill="#ff7f0e"/>
<path d="M154.32 399.47L156.47 401.62L154.32 403.77L152.17 401.62Z" fill="#ff7f0e"/>
<path d="M157.9 415.51L160.05 417.66L157.9 419.81L155.75 417.66Z" fill="#ff7f0e"/>
<path d="M161.48 409.39L163.63 411.54L161.48 413.69L159.33 411.54Z" fill="#ff7f0e"/>
<path d="M165.06 415.93L167.21 418.08L165.06 420.23L162.91 418.08Z" fill="#ff7f0e"/>
<path d="M168.64 384.52L170.79 386.67L168.64 388.82L166.49 386.67Z" fill="#ff7f0e"/>
<path d="M172.22 369.69L174.37 371.84L172.22 373.99L170.07 371.84Z" fill="#ff7f0e"/>
<path d="M175.8 354.36L177.95 356.51L175.8 358.66L173.65 356.51Z" fill="#ff7f0e"/>
<path d="M179.38 422.3L181.53 424.45L179.38 426.6L177.23 424.45Z" fill="#ff7f0e"/>
<path d="M182.96 425.09L185.11 427.24L182.96 429.39L180.81 427.24Z" fill="#ff7f0e"/>
<path d="M186.54 415.93L188.69 418.08L186.54 420.23L184.39 418.08Z" fill="#ff7f0e"/>
<path d="M190.12 415.51L192.27 417.66L190.12 419.81L187.97 417.66Z" fill="#ff7f0e"/>
<path d="M193.7 414.88L195.85 417.03L193.7 419.18L191.55 417.03Z" fill="#ff7f0e"/>
<path d="M197.28 373.85L199.43 376L197.28 378.15L195.13 376Z" fill="#ff7f0e"/>
<path d="M200.86 390.93L203.01 393.08L200.86 395.23L198.71 393.08Z" fill="#ff7f0e"/>
<path d="M204.44 403.97L206.59 406.12L204.44 408.27L202.29 406.12Z" fill="#ff7f0e"/>
<path d="M208.02 378.02L210.17 380.17L208.02 382.32L205.87 380.17Z" fill="#ff7f0e"/>
<path d="M211.6 370.52L213.75 372.67L211.6 374.82L209.45 372.67Z" fill="#ff7f0e"/>
<path d="M215.18 379.97L217.33 382.12L215.18 384.27L213.03 382.12Z" fill="#ff7f0e"/>
<path d="M218.76 398.85L220.91 401L218.76 403.15L216.61 401Z" fill="#ff7f0e"/>
<path d="M222.34 401.68L224.49 403.83L222.34 405.98L220.19 403.83Z" fill="#ff7f0e"/>
<path d="M225.92 377.73L228.07 379.88L225.92 382.03L223.77 379.88Z" fill="#ff7f0e"/>
<path d="M229.5 400.3L231.65 402.45L229.5 404.6L227.35 402.45Z" fill="#ff7f0e"/>
<path d="M233.08 367.6L235.23 369.75L233.08 371.9L230.93 369.75Z" fill="#ff7f0e"/>
<path d="M236.66 398.01L238.81 400.16L236.66 402.31L234.51 400.16Z" fill="#ff7f0e"/>
<path d="M240.24 422.17L242.39 424.32L240.24 426.47L238.09 424.32Z" fill="#ff7f0e"/>
<path d="M243.82 417.59L245.97 419.74L243.82 421.89L241.67 419.74Z" fill="#ff7f0e"/>
<rect x="22.1" y="316.8" width="232.3" height="115.8" fill="none" stroke="#000" stroke-width="0.34"/>
<line x1="32.6" y1="432.6" x2="32.6" y2="434" stroke="#000" stroke-width="0.34"/>
<text x="32.6" y="438.6" text-anchor="middle" class="tk" transform="rotate(0.06 32.6 438.6)">0</text>
<line x1="68.4" y1="432.6" x2="68.4" y2="434" stroke="#000" stroke-width="0.34"/>
<text x="68.4" y="438.6" text-anchor="middle" class="tk" transform="rotate(0.06 68.4 438.6)">10</text>
<line x1="104.2" y1="432.6" x2="104.2" y2="434" stroke="#000" stroke-width="0.34"/>
<text x="104.2" y="438.6" text-anchor="middle" class="tk" transform="rotate(0.06 104.2 438.6)">20</text>
<line x1="140" y1="432.6" x2="140" y2="434" stroke="#000" stroke-width="0.34"/>
<text x="140" y="438.6" text-anchor="middle" class="tk" transform="rotate(0.06 140 438.6)">30</text>
<line x1="175.8" y1="432.6" x2="175.8" y2="434" stroke="#000" stroke-width="0.34"/>
<text x="175.8" y="438.6" text-anchor="middle" class="tk" transform="rotate(0.06 175.8 438.6)">40</text>
<line x1="211.6" y1="432.6" x2="211.6" y2="434" stroke="#000" stroke-width="0.34"/>
<text x="211.6" y="438.6" text-anchor="middle" class="tk" transform="rotate(0.06 211.6 438.6)">50</text>
<line x1="247.4" y1="432.6" x2="247.4" y2="434" stroke="#000" stroke-width="0.34"/>
<text x="247.4" y="438.6" text-anchor="middle" class="tk" transform="rotate(0.06 247.4 438.6)">60</text>
<line x1="20.7" y1="337.45" x2="22.1" y2="337.45" stroke="#000" stroke-width="0.34"/>
<text x="19.5" y="339" text-anchor="end" class="tk" transform="rotate(0.06 19.5 339)">0.5</text>
<line x1="20.7" y1="358.3" x2="22.1" y2="358.3" stroke="#000" stroke-width="0.34"/>
<text x="19.5" y="359.85" text-anchor="end" class="tk" transform="rotate(0.06 19.5 359.85)">0.0</text>
<line x1="20.7" y1="379.15" x2="22.1" y2="379.15" stroke="#000" stroke-width="0.34"/>
<text x="19.5" y="380.7" text-anchor="end" class="tk" transform="rotate(0.06 19.5 380.7)">−0.5</text>
<line x1="20.7" y1="400" x2="22.1" y2="400" stroke="#000" stroke-width="0.34"/>
<text x="19.5" y="401.55" text-anchor="end" class="tk" transform="rotate(0.06 19.5 401.55)">−1.0</text>
<line x1="20.7" y1="420.85" x2="22.1" y2="420.85" stroke="#000" stroke-width="0.34"/>
<text x="19.5" y="422.4" text-anchor="end" class="tk" transform="rotate(0.06 19.5 422.4)">−1.5</text>
<text x="138.25" y="314.5" text-anchor="middle" transform="rotate(0.06 138.25 314.5)">DLinear forecasts apparel sales for the next 60 days</text>
<text x="138.25" y="444.8" text-anchor="middle" transform="rotate(0.06 138.25 444.8)">Time Step (days)</text>
<text x="6.3" y="374.7" text-anchor="middle" transform="rotate(-89.94 6.3 374.7)">Value</text>
<rect x="195.25" y="318.9" width="57.05" height="14.7" rx="0.9" fill="#fff" fill-opacity="0.8" stroke="#d6d6d6" stroke-width="0.4"/>
<line x1="196.85" y1="322.6" x2="206.75" y2="322.6" stroke="#1f77b4" stroke-width="0.78"/>
<path d="M201.8 320.85L203.55 324.35L200.05 324.35Z" fill="#1f77b4"/>
<text x="210.05" y="324.5" transform="rotate(0.06 210.05 324.5)">DLinear Predicted</text>
<line x1="196.85" y1="329.2" x2="206.75" y2="329.2" stroke="#ff7f0e" stroke-width="0.78"/>
<path d="M201.8 327.05L203.95 329.2L201.8 331.35L199.65 329.2Z" fill="#ff7f0e"/>
<text x="210.05" y="331.1" transform="rotate(0.06 210.05 331.1)">Ground Truth</text>
<text class="cap" transform="translate(129.1 458.75) rotate(0.06) scale(0.98 1)" text-anchor="middle"><tspan class="par">(</tspan><tspan class="let">e</tspan><tspan class="par">)</tspan></text>
</g>
</svg>
</body></html>
